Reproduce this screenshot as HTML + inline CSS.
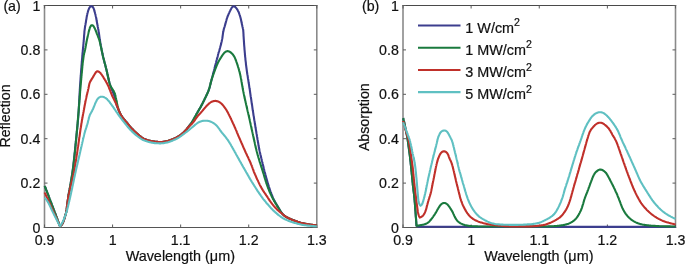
<!DOCTYPE html>
<html><head><meta charset="utf-8"><title>Reflection and Absorption spectra</title>
<style>html,body{margin:0;padding:0;background:#fff;width:685px;height:265px;overflow:hidden}svg{display:block}</style>
</head><body>
<svg width="685" height="265" viewBox="0 0 685 265">
<rect width="685" height="265" fill="#fff"/>
<g font-family="'Liberation Sans', sans-serif" font-size="14.2" fill="#111" stroke="#111" stroke-width="0.2">
<line x1="43.7" y1="5.5" x2="317.6" y2="5.5" stroke="#4a4a4a" stroke-width="1.1"/>
<line x1="43.7" y1="227.5" x2="317.6" y2="227.5" stroke="#555" stroke-width="1.2"/>
<line x1="44.5" y1="5.5" x2="44.5" y2="227.5" stroke="#8a8a8a" stroke-width="1.6"/>
<line x1="316.8" y1="5.5" x2="316.8" y2="227.5" stroke="#8a8a8a" stroke-width="1.6"/>
<line x1="44.50" y1="227.5" x2="44.50" y2="224.5" stroke="#5a5a5a" stroke-width="1"/>
<line x1="44.50" y1="5.5" x2="44.50" y2="8.5" stroke="#5a5a5a" stroke-width="1"/>
<line x1="112.58" y1="227.5" x2="112.58" y2="224.5" stroke="#5a5a5a" stroke-width="1"/>
<line x1="112.58" y1="5.5" x2="112.58" y2="8.5" stroke="#5a5a5a" stroke-width="1"/>
<line x1="180.65" y1="227.5" x2="180.65" y2="224.5" stroke="#5a5a5a" stroke-width="1"/>
<line x1="180.65" y1="5.5" x2="180.65" y2="8.5" stroke="#5a5a5a" stroke-width="1"/>
<line x1="248.73" y1="227.5" x2="248.73" y2="224.5" stroke="#5a5a5a" stroke-width="1"/>
<line x1="248.73" y1="5.5" x2="248.73" y2="8.5" stroke="#5a5a5a" stroke-width="1"/>
<line x1="316.80" y1="227.5" x2="316.80" y2="224.5" stroke="#5a5a5a" stroke-width="1"/>
<line x1="316.80" y1="5.5" x2="316.80" y2="8.5" stroke="#5a5a5a" stroke-width="1"/>
<line x1="44.5" y1="227.50" x2="47.5" y2="227.50" stroke="#5a5a5a" stroke-width="1"/>
<line x1="316.8" y1="227.50" x2="313.8" y2="227.50" stroke="#5a5a5a" stroke-width="1"/>
<line x1="44.5" y1="183.10" x2="47.5" y2="183.10" stroke="#5a5a5a" stroke-width="1"/>
<line x1="316.8" y1="183.10" x2="313.8" y2="183.10" stroke="#5a5a5a" stroke-width="1"/>
<line x1="44.5" y1="138.70" x2="47.5" y2="138.70" stroke="#5a5a5a" stroke-width="1"/>
<line x1="316.8" y1="138.70" x2="313.8" y2="138.70" stroke="#5a5a5a" stroke-width="1"/>
<line x1="44.5" y1="94.30" x2="47.5" y2="94.30" stroke="#5a5a5a" stroke-width="1"/>
<line x1="316.8" y1="94.30" x2="313.8" y2="94.30" stroke="#5a5a5a" stroke-width="1"/>
<line x1="44.5" y1="49.90" x2="47.5" y2="49.90" stroke="#5a5a5a" stroke-width="1"/>
<line x1="316.8" y1="49.90" x2="313.8" y2="49.90" stroke="#5a5a5a" stroke-width="1"/>
<line x1="44.5" y1="5.50" x2="47.5" y2="5.50" stroke="#5a5a5a" stroke-width="1"/>
<line x1="316.8" y1="5.50" x2="313.8" y2="5.50" stroke="#5a5a5a" stroke-width="1"/>
<line x1="402.2" y1="5.5" x2="676.3" y2="5.5" stroke="#4a4a4a" stroke-width="1.1"/>
<line x1="402.2" y1="227.5" x2="676.3" y2="227.5" stroke="#555" stroke-width="1.2"/>
<line x1="403.0" y1="5.5" x2="403.0" y2="227.5" stroke="#8a8a8a" stroke-width="1.6"/>
<line x1="675.5" y1="5.5" x2="675.5" y2="227.5" stroke="#8a8a8a" stroke-width="1.6"/>
<line x1="403.00" y1="227.5" x2="403.00" y2="224.5" stroke="#5a5a5a" stroke-width="1"/>
<line x1="403.00" y1="5.5" x2="403.00" y2="8.5" stroke="#5a5a5a" stroke-width="1"/>
<line x1="471.12" y1="227.5" x2="471.12" y2="224.5" stroke="#5a5a5a" stroke-width="1"/>
<line x1="471.12" y1="5.5" x2="471.12" y2="8.5" stroke="#5a5a5a" stroke-width="1"/>
<line x1="539.25" y1="227.5" x2="539.25" y2="224.5" stroke="#5a5a5a" stroke-width="1"/>
<line x1="539.25" y1="5.5" x2="539.25" y2="8.5" stroke="#5a5a5a" stroke-width="1"/>
<line x1="607.38" y1="227.5" x2="607.38" y2="224.5" stroke="#5a5a5a" stroke-width="1"/>
<line x1="607.38" y1="5.5" x2="607.38" y2="8.5" stroke="#5a5a5a" stroke-width="1"/>
<line x1="675.50" y1="227.5" x2="675.50" y2="224.5" stroke="#5a5a5a" stroke-width="1"/>
<line x1="675.50" y1="5.5" x2="675.50" y2="8.5" stroke="#5a5a5a" stroke-width="1"/>
<line x1="403.0" y1="227.50" x2="406.0" y2="227.50" stroke="#5a5a5a" stroke-width="1"/>
<line x1="675.5" y1="227.50" x2="672.5" y2="227.50" stroke="#5a5a5a" stroke-width="1"/>
<line x1="403.0" y1="183.10" x2="406.0" y2="183.10" stroke="#5a5a5a" stroke-width="1"/>
<line x1="675.5" y1="183.10" x2="672.5" y2="183.10" stroke="#5a5a5a" stroke-width="1"/>
<line x1="403.0" y1="138.70" x2="406.0" y2="138.70" stroke="#5a5a5a" stroke-width="1"/>
<line x1="675.5" y1="138.70" x2="672.5" y2="138.70" stroke="#5a5a5a" stroke-width="1"/>
<line x1="403.0" y1="94.30" x2="406.0" y2="94.30" stroke="#5a5a5a" stroke-width="1"/>
<line x1="675.5" y1="94.30" x2="672.5" y2="94.30" stroke="#5a5a5a" stroke-width="1"/>
<line x1="403.0" y1="49.90" x2="406.0" y2="49.90" stroke="#5a5a5a" stroke-width="1"/>
<line x1="675.5" y1="49.90" x2="672.5" y2="49.90" stroke="#5a5a5a" stroke-width="1"/>
<line x1="403.0" y1="5.50" x2="406.0" y2="5.50" stroke="#5a5a5a" stroke-width="1"/>
<line x1="675.5" y1="5.50" x2="672.5" y2="5.50" stroke="#5a5a5a" stroke-width="1"/>
<path d="M44.7,185.8 44.8,186.1 45.1,186.8 45.3,187.5 45.6,188.2 45.9,188.9 46.1,189.6 46.4,190.3 46.7,191.0 47.0,191.7 47.2,192.4 47.5,193.1 47.8,193.8 48.0,194.5 48.3,195.2 48.6,195.9 48.8,196.6 49.1,197.4 49.4,198.1 49.6,198.8 49.9,199.5 50.2,200.2 50.4,200.9 50.7,201.6 51.0,202.3 51.2,203.0 51.5,203.7 51.8,204.4 52.0,205.1 52.3,205.8 52.6,206.5 52.8,207.2 53.1,207.9 53.4,208.6 53.6,209.3 53.9,210.0 54.2,210.7 54.4,211.4 54.7,212.1 55.0,212.8 55.2,213.5 55.5,214.2 55.8,214.9 56.0,215.6 56.3,216.3 56.6,217.0 56.8,217.8 57.1,218.5 57.4,219.2 57.6,219.9 57.9,220.6 58.1,221.3 58.4,222.0 58.7,222.7 58.9,223.4 59.2,224.1 59.5,224.8 59.7,225.5 60.0,226.2 60.6,225.8 61.2,225.3 61.6,224.8 62.1,224.2 62.4,223.6 62.8,222.9 63.1,222.2 63.4,221.5 63.6,220.8 63.9,220.1 64.1,219.4 64.4,218.7 64.6,218.0 64.8,217.3 65.0,216.5 65.2,215.8 65.4,215.1 65.6,214.4 65.8,213.7 66.0,212.9 66.2,212.2 66.3,211.5 66.4,210.7 66.6,210.0 66.7,209.2 66.8,208.5 66.9,207.8 66.9,207.0 67.0,206.3 67.1,205.5 67.2,204.8 67.3,204.0 67.4,203.3 67.5,202.5 67.6,201.8 67.7,201.0 67.8,200.3 67.9,199.6 68.0,198.8 68.1,198.1 68.2,197.3 68.3,196.6 68.4,195.9 68.6,195.1 68.7,194.4 68.8,193.6 68.9,192.9 69.1,192.2 69.2,191.4 69.3,190.7 69.5,189.9 69.6,189.2 69.7,188.5 69.9,187.7 70.0,187.0 70.1,186.3 70.3,185.5 70.4,184.8 70.6,184.0 70.7,183.3 70.8,182.6 70.9,181.8 71.1,181.1 71.2,180.3 71.3,179.6 71.5,178.9 71.6,178.1 71.7,177.4 71.8,176.6 71.9,175.9 72.1,175.2 72.2,174.4 72.3,173.7 72.4,172.9 72.5,172.2 72.6,171.5 72.7,170.7 72.8,170.0 72.9,169.2 73.0,168.5 73.1,167.7 73.2,167.0 73.3,166.2 73.4,165.5 73.4,164.8 73.5,164.0 73.6,163.3 73.7,162.5 73.8,161.8 73.9,161.0 73.9,160.3 74.0,159.5 74.1,158.8 74.2,158.0 74.3,157.3 74.3,156.5 74.4,155.8 74.5,155.1 74.6,154.3 74.6,153.6 74.7,152.8 74.8,152.1 74.9,151.3 74.9,150.6 75.0,149.8 75.1,149.1 75.2,148.3 75.2,147.6 75.3,146.8 75.4,146.1 75.5,145.4 75.5,144.6 75.6,143.9 75.7,143.1 75.8,142.4 75.8,141.6 75.9,140.9 76.0,140.1 76.1,139.4 76.1,138.6 76.2,137.9 76.3,137.1 76.4,136.4 76.5,135.6 76.5,134.9 76.6,134.2 76.7,133.4 76.8,132.7 76.8,131.9 76.9,131.2 77.0,130.4 77.1,129.7 77.2,128.9 77.2,128.2 77.3,127.4 77.4,126.7 77.5,125.9 77.5,125.2 77.6,124.5 77.7,123.7 77.7,123.0 77.8,122.2 77.9,121.5 77.9,120.7 78.0,120.0 78.1,119.2 78.1,118.5 78.2,117.7 78.2,117.0 78.3,116.2 78.4,115.5 78.4,114.7 78.5,114.0 78.5,113.2 78.6,112.5 78.6,111.7 78.7,111.0 78.7,110.2 78.8,109.5 78.8,108.7 78.8,108.0 78.9,107.2 78.9,106.5 79.0,105.8 79.0,105.0 79.0,104.3 79.1,103.5 79.1,102.8 79.2,102.0 79.2,101.3 79.2,100.5 79.3,99.8 79.3,99.0 79.4,98.3 79.4,97.5 79.4,96.8 79.5,96.0 79.5,95.3 79.6,94.5 79.6,93.8 79.6,93.0 79.7,92.3 79.7,91.5 79.8,90.8 79.8,90.0 79.8,89.3 79.9,88.5 79.9,87.8 80.0,87.0 80.0,86.3 80.1,85.5 80.1,84.8 80.2,84.0 80.2,83.3 80.3,82.5 80.3,81.8 80.4,81.0 80.4,80.3 80.5,79.5 80.5,78.8 80.6,78.0 80.6,77.3 80.7,76.5 80.7,75.8 80.8,75.0 80.9,74.3 80.9,73.6 81.0,72.8 81.0,72.1 81.1,71.3 81.1,70.6 81.2,69.8 81.2,69.1 81.3,68.3 81.4,67.6 81.4,66.8 81.5,66.1 81.5,65.3 81.6,64.6 81.7,63.8 81.7,63.1 81.8,62.3 81.8,61.6 81.9,60.8 82.0,60.1 82.0,59.3 82.1,58.6 82.2,57.8 82.2,57.1 82.3,56.4 82.3,55.6 82.4,54.9 82.5,54.1 82.5,53.4 82.6,52.6 82.7,51.9 82.8,51.1 82.8,50.4 82.9,49.6 83.0,48.9 83.0,48.1 83.1,47.4 83.2,46.6 83.3,45.9 83.3,45.1 83.4,44.4 83.5,43.7 83.5,42.9 83.6,42.2 83.7,41.4 83.7,40.7 83.8,39.9 83.9,39.2 83.9,38.4 84.0,37.7 84.0,36.9 84.1,36.2 84.1,35.4 84.2,34.7 84.3,33.9 84.3,33.2 84.4,32.4 84.4,31.7 84.5,30.9 84.6,30.2 84.7,29.5 84.8,28.7 84.9,28.0 85.0,27.2 85.1,26.5 85.2,25.7 85.4,25.0 85.5,24.3 85.6,23.5 85.8,22.8 85.9,22.0 86.0,21.3 86.1,20.6 86.2,19.8 86.4,19.1 86.5,18.3 86.6,17.6 86.7,16.9 86.9,16.1 87.0,15.4 87.2,14.7 87.3,13.9 87.5,13.2 87.7,12.5 87.9,11.7 88.1,11.0 88.3,10.3 88.6,9.6 88.9,8.9 89.2,8.2 89.5,7.6 90.0,7.0 90.5,6.5 91.0,6.3 91.6,6.2 92.2,6.4 92.7,6.8 93.1,7.4 93.4,8.0 93.7,8.7 94.0,9.4 94.2,10.1 94.4,10.9 94.6,11.6 94.8,12.3 95.0,13.0 95.2,13.8 95.4,14.5 95.6,15.2 95.7,15.9 95.9,16.7 96.1,17.4 96.2,18.1 96.3,18.9 96.5,19.6 96.6,20.3 96.7,21.1 96.9,21.8 97.0,22.6 97.1,23.3 97.3,24.0 97.4,24.8 97.6,25.5 97.7,26.3 97.8,27.0 98.0,27.7 98.1,28.5 98.3,29.2 98.4,29.9 98.5,30.7 98.6,31.4 98.7,32.2 98.8,32.9 99.0,33.6 99.1,34.4 99.2,35.1 99.3,35.9 99.4,36.6 99.5,37.4 99.6,38.1 99.7,38.8 99.8,39.6 100.0,40.3 100.1,41.1 100.2,41.8 100.3,42.5 100.5,43.3 100.6,44.0 100.7,44.8 100.8,45.5 101.0,46.2 101.1,47.0 101.2,47.7 101.4,48.5 101.5,49.2 101.7,49.9 101.8,50.7 102.0,51.4 102.1,52.1 102.3,52.9 102.4,53.6 102.6,54.3 102.7,55.1 102.9,55.8 103.0,56.5 103.2,57.3 103.4,58.0 103.6,58.7 103.7,59.5 103.9,60.2 104.1,60.9 104.3,61.6 104.5,62.4 104.7,63.1 104.9,63.8 105.1,64.5 105.3,65.3 105.5,66.0 105.7,66.7 105.8,67.4 106.0,68.2 106.2,68.9 106.4,69.6 106.6,70.3 106.8,71.1 106.9,71.8 107.1,72.5 107.3,73.3 107.4,74.0 107.6,74.7 107.8,75.5 107.9,76.2 108.1,76.9 108.3,77.7 108.4,78.4 108.6,79.1 108.8,79.8 108.9,80.6 109.1,81.3 109.3,82.0 109.5,82.8 109.7,83.5 109.9,84.2 110.1,84.9 110.3,85.6 110.6,86.4 110.8,87.1 111.1,87.8 111.3,88.5 111.6,89.2 111.9,89.9 112.2,90.5 112.5,91.2 112.8,91.9 113.1,92.6 113.4,93.3 113.6,94.0 113.9,94.7 114.2,95.4 114.4,96.1 114.6,96.8 114.8,97.6 115.0,98.3 115.2,99.0 115.4,99.7 115.5,100.5 115.7,101.2 115.8,101.9 116.0,102.7 116.2,103.4 116.4,104.1 116.6,104.8 116.8,105.6 117.0,106.3 117.3,107.0 117.6,107.6 117.9,108.3 118.2,109.0 118.5,109.7 118.8,110.4 119.1,111.1 119.4,111.8 119.7,112.5 120.0,113.1 120.3,113.8 120.7,114.5 121.0,115.1 121.4,115.8 121.8,116.4 122.3,117.0 122.7,117.6 123.2,118.2 123.6,118.8 124.1,119.4 124.6,120.0 125.1,120.6 125.5,121.1 126.0,121.7 126.5,122.3 127.0,122.8 127.5,123.4 128.0,124.0 128.4,124.6 128.9,125.2 129.4,125.8 129.8,126.3 130.3,126.9 130.8,127.5 131.3,128.0 131.8,128.6 132.4,129.1 132.9,129.6 133.4,130.2 134.0,130.7 134.5,131.2 135.1,131.7 135.6,132.2 136.2,132.7 136.7,133.2 137.3,133.7 137.8,134.2 138.4,134.7 139.0,135.2 139.6,135.7 140.1,136.2 140.7,136.7 141.3,137.1 141.9,137.6 142.5,138.0 143.1,138.4 143.8,138.7 144.5,139.0 145.2,139.3 145.9,139.6 146.6,139.8 147.3,140.0 148.0,140.3 148.7,140.5 149.5,140.7 150.2,140.9 150.9,141.0 151.7,141.2 152.4,141.3 153.1,141.4 153.9,141.5 154.6,141.6 155.4,141.7 156.1,141.8 156.9,141.9 157.6,141.9 158.4,142.0 159.1,142.0 159.9,142.1 160.6,142.1 161.4,142.0 162.1,142.0 162.8,141.9 163.6,141.8 164.3,141.7 165.1,141.6 165.8,141.4 166.5,141.3 167.3,141.1 168.0,140.9 168.7,140.7 169.4,140.4 170.1,140.2 170.8,140.0 171.5,139.7 172.2,139.4 172.9,139.1 173.6,138.8 174.3,138.5 175.0,138.2 175.7,137.9 176.3,137.6 177.0,137.2 177.6,136.8 178.3,136.5 178.9,136.1 179.6,135.6 180.2,135.2 180.8,134.8 181.4,134.3 182.0,133.9 182.6,133.4 183.1,132.9 183.7,132.4 184.2,131.9 184.8,131.4 185.3,130.8 185.7,130.2 186.2,129.7 186.7,129.1 187.1,128.5 187.6,127.9 188.1,127.3 188.6,126.7 189.0,126.1 189.5,125.6 189.9,125.0 190.4,124.4 190.8,123.7 191.3,123.1 191.7,122.5 192.1,121.9 192.5,121.3 192.9,120.6 193.3,120.0 193.6,119.3 194.0,118.7 194.4,118.0 194.7,117.3 195.1,116.7 195.5,116.0 195.8,115.4 196.2,114.7 196.5,114.1 196.9,113.4 197.3,112.8 197.7,112.1 198.0,111.5 198.4,110.8 198.8,110.2 199.1,109.5 199.5,108.9 199.9,108.2 200.3,107.6 200.7,106.9 201.0,106.3 201.4,105.6 201.7,104.9 202.1,104.3 202.4,103.6 202.8,102.9 203.1,102.3 203.4,101.6 203.8,100.9 204.1,100.2 204.4,99.6 204.7,98.9 205.1,98.2 205.4,97.5 205.7,96.9 206.0,96.2 206.4,95.5 206.7,94.8 207.0,94.2 207.3,93.5 207.7,92.8 208.0,92.1 208.2,91.4 208.5,90.7 208.8,90.0 209.0,89.3 209.2,88.6 209.5,87.9 209.7,87.2 209.9,86.4 210.0,85.7 210.2,85.0 210.4,84.3 210.6,83.5 210.8,82.8 211.0,82.1 211.2,81.3 211.3,80.6 211.5,79.9 211.7,79.2 211.9,78.4 212.1,77.7 212.3,77.0 212.5,76.3 212.7,75.5 212.9,74.8 213.0,74.1 213.2,73.4 213.4,72.6 213.6,71.9 213.8,71.2 214.0,70.5 214.2,69.7 214.4,69.0 214.5,68.3 214.7,67.5 214.9,66.8 215.1,66.1 215.3,65.4 215.5,64.6 215.7,63.9 215.9,63.2 216.1,62.5 216.2,61.7 216.4,61.0 216.6,60.3 216.8,59.6 217.0,58.8 217.2,58.1 217.4,57.4 217.6,56.7 217.8,55.9 217.9,55.2 218.1,54.5 218.3,53.8 218.5,53.0 218.7,52.3 219.0,51.6 219.2,50.9 219.4,50.2 219.6,49.4 219.8,48.7 220.0,48.0 220.2,47.3 220.4,46.5 220.6,45.8 220.8,45.1 221.0,44.4 221.2,43.6 221.3,42.9 221.5,42.2 221.7,41.5 221.8,40.7 222.0,40.0 222.1,39.2 222.3,38.5 222.4,37.8 222.5,37.0 222.6,36.3 222.7,35.5 222.8,34.8 222.9,34.1 223.0,33.3 223.1,32.6 223.3,31.8 223.4,31.1 223.6,30.4 223.7,29.6 223.9,28.9 224.1,28.2 224.3,27.5 224.6,26.8 224.8,26.0 225.0,25.3 225.2,24.6 225.4,23.9 225.6,23.1 225.8,22.4 226.0,21.7 226.2,21.0 226.4,20.2 226.6,19.5 226.8,18.8 227.0,18.1 227.3,17.4 227.5,16.7 227.8,16.0 228.1,15.3 228.4,14.6 228.7,13.9 229.0,13.2 229.3,12.6 229.6,11.9 229.9,11.2 230.3,10.5 230.6,9.8 230.9,9.2 231.3,8.5 231.6,7.9 232.1,7.3 232.6,6.8 233.1,6.4 233.7,6.2 234.3,6.3 234.8,6.6 235.4,7.1 235.8,7.6 236.3,8.2 236.8,8.8 237.2,9.4 237.6,10.0 237.9,10.7 238.3,11.4 238.6,12.0 238.9,12.7 239.1,13.4 239.4,14.1 239.6,14.8 239.9,15.6 240.1,16.3 240.3,17.0 240.5,17.7 240.7,18.4 240.9,19.2 241.0,19.9 241.2,20.6 241.3,21.4 241.5,22.1 241.6,22.8 241.8,23.6 241.9,24.3 242.1,25.0 242.3,25.8 242.4,26.5 242.6,27.2 242.8,28.0 242.9,28.7 243.1,29.4 243.2,30.2 243.3,30.9 243.3,31.7 243.4,32.4 243.4,33.2 243.5,33.9 243.5,34.7 243.5,35.4 243.6,36.2 243.6,36.9 243.7,37.7 243.7,38.4 243.8,39.2 243.8,39.9 243.9,40.7 243.9,41.4 244.0,42.2 244.0,42.9 244.1,43.6 244.1,44.4 244.2,45.1 244.2,45.9 244.3,46.6 244.4,47.4 244.4,48.1 244.5,48.9 244.5,49.6 244.6,50.4 244.7,51.1 244.7,51.9 244.8,52.6 244.9,53.4 244.9,54.1 245.0,54.9 245.1,55.6 245.1,56.4 245.2,57.1 245.3,57.8 245.4,58.6 245.4,59.3 245.5,60.1 245.6,60.8 245.7,61.6 245.8,62.3 245.9,63.1 245.9,63.8 246.0,64.6 246.1,65.3 246.2,66.0 246.3,66.8 246.4,67.5 246.5,68.3 246.6,69.0 246.7,69.8 246.8,70.5 246.9,71.3 247.0,72.0 247.1,72.7 247.2,73.5 247.3,74.2 247.5,75.0 247.6,75.7 247.7,76.4 247.8,77.2 247.9,77.9 248.0,78.7 248.2,79.4 248.3,80.2 248.4,80.9 248.5,81.6 248.6,82.4 248.7,83.1 248.9,83.9 249.0,84.6 249.1,85.3 249.2,86.1 249.3,86.8 249.4,87.6 249.5,88.3 249.7,89.0 249.8,89.8 249.9,90.5 250.0,91.3 250.1,92.0 250.2,92.8 250.3,93.5 250.4,94.2 250.5,95.0 250.6,95.7 250.7,96.5 250.9,97.2 251.0,98.0 251.1,98.7 251.2,99.4 251.3,100.2 251.4,100.9 251.5,101.7 251.6,102.4 251.7,103.1 251.8,103.9 252.0,104.6 252.1,105.4 252.2,106.1 252.3,106.9 252.4,107.6 252.5,108.3 252.6,109.1 252.7,109.8 252.8,110.6 253.0,111.3 253.1,112.1 253.2,112.8 253.3,113.5 253.4,114.3 253.5,115.0 253.6,115.8 253.8,116.5 253.9,117.2 254.0,118.0 254.1,118.7 254.2,119.5 254.3,120.2 254.5,120.9 254.6,121.7 254.7,122.4 254.8,123.2 254.9,123.9 255.1,124.6 255.2,125.4 255.3,126.1 255.4,126.9 255.5,127.6 255.7,128.3 255.8,129.1 255.9,129.8 256.0,130.6 256.2,131.3 256.3,132.0 256.4,132.8 256.5,133.5 256.7,134.3 256.8,135.0 256.9,135.7 257.0,136.5 257.2,137.2 257.3,138.0 257.4,138.7 257.5,139.4 257.7,140.2 257.8,140.9 257.9,141.7 258.0,142.4 258.2,143.1 258.3,143.9 258.4,144.6 258.5,145.4 258.7,146.1 258.8,146.8 258.9,147.6 259.1,148.3 259.2,149.1 259.4,149.8 259.5,150.5 259.7,151.3 259.8,152.0 260.0,152.7 260.2,153.5 260.3,154.2 260.5,154.9 260.7,155.6 260.9,156.4 261.0,157.1 261.2,157.8 261.4,158.6 261.6,159.3 261.8,160.0 261.9,160.7 262.1,161.5 262.3,162.2 262.5,162.9 262.6,163.7 262.8,164.4 263.0,165.1 263.2,165.8 263.3,166.6 263.5,167.3 263.7,168.0 263.9,168.8 264.1,169.5 264.2,170.2 264.4,170.9 264.6,171.7 264.8,172.4 265.0,173.1 265.2,173.8 265.4,174.6 265.6,175.3 265.8,176.0 266.0,176.7 266.2,177.5 266.3,178.2 266.6,178.9 266.8,179.6 267.0,180.4 267.2,181.1 267.4,181.8 267.6,182.5 267.8,183.2 268.0,184.0 268.3,184.7 268.5,185.4 268.7,186.1 268.9,186.8 269.2,187.5 269.4,188.2 269.6,189.0 269.9,189.7 270.1,190.4 270.4,191.1 270.6,191.8 270.9,192.5 271.2,193.2 271.4,193.9 271.7,194.6 272.0,195.3 272.2,196.0 272.5,196.7 272.8,197.4 273.1,198.1 273.4,198.7 273.7,199.4 274.1,200.1 274.4,200.8 274.8,201.4 275.2,202.1 275.5,202.7 275.9,203.4 276.3,204.0 276.7,204.6 277.1,205.3 277.5,205.9 277.8,206.6 278.2,207.2 278.6,207.9 279.0,208.5 279.4,209.2 279.7,209.8 280.1,210.5 280.5,211.1 280.9,211.8 281.3,212.4 281.7,213.0 282.2,213.6 282.7,214.1 283.2,214.7 283.8,215.2 284.3,215.6 284.9,216.1 285.6,216.5 286.2,216.9 286.8,217.3 287.5,217.6 288.2,218.0 288.8,218.3 289.5,218.6 290.2,218.9 290.9,219.2 291.6,219.5 292.3,219.8 293.0,220.1 293.7,220.3 294.4,220.6 295.1,220.8 295.8,221.1 296.5,221.4 297.2,221.6 297.9,221.9 298.6,222.1 299.3,222.3 300.1,222.6 300.8,222.8 301.5,223.0 302.2,223.1 303.0,223.3 303.7,223.4 304.4,223.6 305.2,223.7 305.9,223.9 306.6,224.0 307.4,224.1 308.1,224.3 308.9,224.4 309.6,224.5 310.3,224.7 311.1,224.8 311.8,224.9 312.6,225.0 313.3,225.1 314.1,225.1 314.8,225.2 315.6,225.3 316.3,225.4 316.8,225.4" fill="none" stroke="#3c3e8e" stroke-width="2.1" stroke-linejoin="round"/>
<path d="M44.7,185.8 44.8,186.1 45.1,186.8 45.3,187.5 45.6,188.2 45.9,188.9 46.1,189.6 46.4,190.3 46.7,191.0 47.0,191.7 47.2,192.4 47.5,193.1 47.8,193.8 48.0,194.5 48.3,195.2 48.6,195.9 48.8,196.6 49.1,197.4 49.4,198.1 49.6,198.8 49.9,199.5 50.2,200.2 50.4,200.9 50.7,201.6 51.0,202.3 51.2,203.0 51.5,203.7 51.8,204.4 52.0,205.1 52.3,205.8 52.6,206.5 52.8,207.2 53.1,207.9 53.4,208.6 53.6,209.3 53.9,210.0 54.2,210.7 54.4,211.4 54.7,212.1 55.0,212.8 55.2,213.5 55.5,214.2 55.8,214.9 56.0,215.6 56.3,216.3 56.6,217.0 56.8,217.8 57.1,218.5 57.4,219.2 57.6,219.9 57.9,220.6 58.1,221.3 58.4,222.0 58.7,222.7 58.9,223.4 59.2,224.1 59.5,224.8 59.7,225.5 60.0,226.2 60.6,225.8 61.2,225.3 61.6,224.8 62.1,224.2 62.4,223.6 62.8,222.9 63.1,222.2 63.4,221.5 63.6,220.8 63.9,220.1 64.1,219.4 64.4,218.7 64.6,218.0 64.8,217.3 65.0,216.5 65.2,215.8 65.4,215.1 65.6,214.4 65.8,213.7 66.0,212.9 66.2,212.2 66.3,211.5 66.4,210.7 66.6,210.0 66.7,209.2 66.8,208.5 66.9,207.8 66.9,207.0 67.0,206.3 67.1,205.5 67.2,204.8 67.3,204.0 67.4,203.3 67.5,202.5 67.6,201.8 67.7,201.1 67.8,200.3 67.9,199.6 68.0,198.8 68.1,198.1 68.2,197.3 68.3,196.6 68.4,195.9 68.6,195.1 68.7,194.4 68.8,193.6 68.9,192.9 69.1,192.2 69.2,191.4 69.3,190.7 69.5,189.9 69.6,189.2 69.7,188.5 69.9,187.7 70.0,187.0 70.1,186.3 70.3,185.5 70.4,184.8 70.5,184.0 70.7,183.3 70.8,182.6 70.9,181.8 71.1,181.1 71.2,180.4 71.3,179.6 71.4,178.9 71.6,178.1 71.7,177.4 71.8,176.7 71.9,175.9 72.0,175.2 72.2,174.4 72.3,173.7 72.4,172.9 72.5,172.2 72.6,171.5 72.7,170.7 72.8,170.0 72.9,169.2 73.0,168.5 73.1,167.7 73.2,167.0 73.3,166.3 73.4,165.5 73.5,164.8 73.6,164.0 73.6,163.3 73.7,162.5 73.8,161.8 73.9,161.0 74.0,160.3 74.1,159.6 74.2,158.8 74.2,158.1 74.3,157.3 74.4,156.6 74.5,155.8 74.6,155.1 74.6,154.3 74.7,153.6 74.8,152.8 74.9,152.1 75.0,151.3 75.0,150.6 75.1,149.9 75.2,149.1 75.3,148.4 75.3,147.6 75.4,146.9 75.5,146.1 75.6,145.4 75.6,144.6 75.7,143.9 75.8,143.1 75.9,142.4 75.9,141.6 76.0,140.9 76.1,140.2 76.2,139.4 76.2,138.7 76.3,137.9 76.4,137.2 76.4,136.4 76.5,135.7 76.6,134.9 76.6,134.2 76.7,133.4 76.8,132.7 76.8,131.9 76.9,131.2 77.0,130.4 77.0,129.7 77.1,129.0 77.2,128.2 77.2,127.5 77.3,126.7 77.4,126.0 77.4,125.2 77.5,124.5 77.6,123.7 77.6,123.0 77.7,122.2 77.7,121.5 77.8,120.7 77.9,120.0 77.9,119.2 78.0,118.5 78.1,117.7 78.1,117.0 78.2,116.2 78.2,115.5 78.3,114.7 78.4,114.0 78.4,113.3 78.5,112.5 78.6,111.8 78.6,111.0 78.7,110.3 78.7,109.5 78.8,108.8 78.9,108.0 78.9,107.3 79.0,106.5 79.0,105.8 79.1,105.0 79.2,104.3 79.2,103.5 79.3,102.8 79.3,102.0 79.4,101.3 79.4,100.5 79.5,99.8 79.6,99.0 79.6,98.3 79.7,97.6 79.7,96.8 79.8,96.1 79.9,95.3 79.9,94.6 80.0,93.8 80.0,93.1 80.1,92.3 80.1,91.6 80.2,90.8 80.3,90.1 80.3,89.3 80.4,88.6 80.5,87.8 80.5,87.1 80.6,86.3 80.6,85.6 80.7,84.8 80.8,84.1 80.8,83.3 80.9,82.6 81.0,81.9 81.0,81.1 81.1,80.4 81.2,79.6 81.2,78.9 81.3,78.1 81.4,77.4 81.4,76.6 81.5,75.9 81.6,75.1 81.6,74.4 81.7,73.6 81.8,72.9 81.9,72.1 81.9,71.4 82.0,70.6 82.1,69.9 82.1,69.2 82.2,68.4 82.3,67.7 82.3,66.9 82.4,66.2 82.5,65.4 82.6,64.7 82.6,63.9 82.7,63.2 82.8,62.4 82.9,61.7 83.0,60.9 83.1,60.2 83.2,59.5 83.3,58.7 83.4,58.0 83.5,57.2 83.6,56.5 83.7,55.7 83.8,55.0 84.0,54.3 84.1,53.5 84.3,52.8 84.5,52.1 84.7,51.4 84.8,50.6 85.0,49.9 85.2,49.2 85.3,48.4 85.5,47.7 85.6,47.0 85.7,46.2 85.9,45.5 86.0,44.7 86.1,44.0 86.3,43.3 86.4,42.5 86.5,41.8 86.7,41.1 86.8,40.3 87.0,39.6 87.1,38.9 87.3,38.1 87.5,37.4 87.6,36.7 87.8,35.9 87.9,35.2 88.1,34.5 88.3,33.7 88.4,33.0 88.6,32.3 88.8,31.5 89.0,30.8 89.2,30.1 89.4,29.4 89.6,28.7 89.8,27.9 90.1,27.2 90.4,26.6 90.8,26.0 91.2,25.5 91.7,25.2 92.3,25.2 92.8,25.5 93.3,25.9 93.7,26.5 94.1,27.1 94.4,27.8 94.8,28.5 95.1,29.1 95.4,29.8 95.7,30.5 95.9,31.2 96.2,31.9 96.5,32.6 96.7,33.3 97.0,34.0 97.3,34.7 97.6,35.4 97.9,36.1 98.1,36.8 98.4,37.5 98.7,38.2 98.9,38.9 99.2,39.6 99.4,40.3 99.6,41.1 99.8,41.8 100.0,42.5 100.1,43.2 100.3,44.0 100.5,44.7 100.6,45.4 100.8,46.2 101.0,46.9 101.1,47.6 101.3,48.4 101.4,49.1 101.6,49.8 101.7,50.6 101.9,51.3 102.0,52.0 102.2,52.8 102.4,53.5 102.5,54.2 102.7,55.0 102.9,55.7 103.0,56.4 103.2,57.2 103.4,57.9 103.6,58.6 103.8,59.3 104.0,60.1 104.1,60.8 104.3,61.5 104.5,62.2 104.7,63.0 104.9,63.7 105.1,64.4 105.3,65.1 105.5,65.9 105.6,66.6 105.8,67.3 106.0,68.1 106.2,68.8 106.4,69.5 106.6,70.2 106.7,71.0 106.9,71.7 107.1,72.4 107.2,73.2 107.4,73.9 107.5,74.6 107.7,75.4 107.9,76.1 108.0,76.8 108.2,77.6 108.3,78.3 108.5,79.0 108.7,79.8 108.8,80.5 109.0,81.2 109.2,81.9 109.4,82.7 109.6,83.4 109.8,84.1 110.1,84.8 110.3,85.5 110.7,86.2 111.0,86.9 111.4,87.5 111.7,88.1 112.2,88.8 112.6,89.4 113.0,90.0 113.4,90.7 113.8,91.3 114.1,92.0 114.4,92.6 114.7,93.3 115.0,94.0 115.2,94.8 115.4,95.5 115.5,96.2 115.7,96.9 115.8,97.7 116.0,98.4 116.1,99.2 116.3,99.9 116.4,100.6 116.6,101.4 116.7,102.1 116.9,102.8 117.0,103.6 117.2,104.3 117.4,105.0 117.5,105.8 117.7,106.5 117.9,107.2 118.1,107.9 118.3,108.7 118.5,109.4 118.7,110.1 119.0,110.8 119.2,111.5 119.5,112.2 119.8,112.9 120.2,113.5 120.5,114.2 120.9,114.9 121.3,115.5 121.7,116.1 122.1,116.8 122.5,117.4 123.0,118.0 123.4,118.6 123.9,119.2 124.4,119.7 124.8,120.3 125.3,120.9 125.8,121.5 126.3,122.0 126.8,122.6 127.3,123.2 127.7,123.7 128.2,124.3 128.7,124.9 129.1,125.5 129.6,126.1 130.1,126.7 130.6,127.2 131.1,127.8 131.6,128.3 132.1,128.9 132.7,129.4 133.2,129.9 133.7,130.4 134.3,131.0 134.8,131.5 135.4,132.0 135.9,132.5 136.5,133.0 137.0,133.5 137.6,134.0 138.2,134.5 138.7,135.0 139.3,135.5 139.9,136.0 140.4,136.4 141.0,136.9 141.6,137.4 142.2,137.8 142.9,138.2 143.5,138.6 144.2,138.9 144.9,139.2 145.6,139.4 146.3,139.7 147.0,139.9 147.7,140.2 148.4,140.4 149.1,140.6 149.9,140.8 150.6,140.9 151.3,141.1 152.1,141.3 152.8,141.4 153.5,141.5 154.3,141.6 155.0,141.7 155.8,141.8 156.5,141.8 157.3,141.9 158.0,142.0 158.8,142.0 159.5,142.0 160.3,142.1 161.0,142.1 161.8,142.0 162.5,142.0 163.3,141.9 164.0,141.8 164.7,141.6 165.5,141.5 166.2,141.3 166.9,141.2 167.7,141.0 168.4,140.8 169.1,140.6 169.8,140.3 170.5,140.1 171.2,139.8 171.9,139.5 172.6,139.3 173.3,139.0 174.0,138.7 174.7,138.4 175.4,138.0 176.0,137.7 176.7,137.4 177.3,137.0 178.0,136.6 178.6,136.2 179.3,135.8 179.9,135.4 180.5,135.0 181.1,134.5 181.7,134.1 182.3,133.6 182.9,133.1 183.4,132.7 184.0,132.1 184.5,131.6 185.0,131.1 185.5,130.5 186.0,129.9 186.5,129.3 186.9,128.8 187.4,128.2 187.9,127.6 188.3,127.0 188.8,126.4 189.3,125.8 189.7,125.2 190.2,124.6 190.6,124.0 191.1,123.4 191.5,122.8 191.9,122.2 192.3,121.6 192.7,120.9 193.1,120.3 193.5,119.6 193.8,119.0 194.2,118.3 194.6,117.7 194.9,117.0 195.3,116.3 195.6,115.7 196.0,115.0 196.4,114.4 196.7,113.7 197.1,113.1 197.5,112.4 197.8,111.8 198.2,111.1 198.6,110.5 199.0,109.8 199.3,109.2 199.7,108.5 200.1,107.9 200.5,107.2 200.9,106.6 201.2,105.9 201.6,105.3 201.9,104.6 202.3,103.9 202.6,103.3 203.0,102.6 203.3,101.9 203.6,101.2 203.9,100.6 204.3,99.9 204.6,99.2 204.9,98.5 205.2,97.9 205.6,97.2 205.9,96.5 206.2,95.8 206.6,95.2 206.9,94.5 207.2,93.8 207.5,93.1 207.8,92.4 208.1,91.7 208.4,91.1 208.6,90.4 208.9,89.6 209.1,88.9 209.3,88.2 209.5,87.5 209.7,86.8 209.9,86.0 210.1,85.3 210.3,84.6 210.5,83.9 210.7,83.1 210.8,82.4 211.0,81.7 211.2,81.0 211.4,80.2 211.7,79.5 211.9,78.8 212.1,78.1 212.3,77.4 212.6,76.7 212.8,76.0 213.1,75.2 213.3,74.5 213.6,73.8 213.8,73.1 214.1,72.4 214.3,71.7 214.6,71.0 214.9,70.3 215.1,69.6 215.4,68.9 215.7,68.2 215.9,67.5 216.2,66.8 216.5,66.1 216.8,65.4 217.1,64.7 217.4,64.0 217.7,63.4 218.0,62.7 218.3,62.0 218.7,61.3 219.0,60.7 219.4,60.0 219.8,59.4 220.2,58.7 220.6,58.1 221.0,57.5 221.4,56.8 221.8,56.2 222.2,55.6 222.6,55.0 223.0,54.4 223.5,53.8 224.0,53.2 224.5,52.6 225.0,52.2 225.6,51.7 226.3,51.4 226.9,51.2 227.6,51.1 228.3,51.2 229.0,51.4 229.6,51.7 230.3,52.1 230.9,52.6 231.4,53.1 232.0,53.6 232.5,54.1 233.0,54.7 233.4,55.3 233.8,55.9 234.2,56.5 234.6,57.2 234.9,57.9 235.2,58.6 235.5,59.3 235.7,60.0 236.0,60.7 236.3,61.4 236.5,62.1 236.8,62.8 237.0,63.5 237.2,64.2 237.5,64.9 237.7,65.6 237.9,66.3 238.1,67.1 238.4,67.8 238.6,68.5 238.8,69.2 239.0,69.9 239.2,70.7 239.4,71.4 239.6,72.1 239.8,72.8 239.9,73.6 240.1,74.3 240.3,75.0 240.4,75.8 240.6,76.5 240.7,77.2 240.9,78.0 241.0,78.7 241.2,79.4 241.3,80.2 241.4,80.9 241.5,81.7 241.7,82.4 241.8,83.1 241.9,83.9 242.0,84.6 242.2,85.4 242.3,86.1 242.4,86.8 242.6,87.6 242.7,88.3 242.8,89.1 243.0,89.8 243.1,90.5 243.3,91.3 243.4,92.0 243.6,92.7 243.7,93.5 243.9,94.2 244.0,94.9 244.2,95.7 244.3,96.4 244.5,97.1 244.6,97.9 244.8,98.6 245.0,99.3 245.1,100.1 245.3,100.8 245.5,101.5 245.6,102.3 245.8,103.0 246.0,103.7 246.1,104.5 246.3,105.2 246.5,105.9 246.6,106.6 246.8,107.4 247.0,108.1 247.1,108.8 247.3,109.6 247.5,110.3 247.6,111.0 247.8,111.8 248.0,112.5 248.2,113.2 248.3,114.0 248.5,114.7 248.7,115.4 248.8,116.1 249.0,116.9 249.2,117.6 249.3,118.3 249.5,119.1 249.7,119.8 249.8,120.5 250.0,121.3 250.1,122.0 250.3,122.7 250.5,123.5 250.6,124.2 250.8,124.9 250.9,125.7 251.1,126.4 251.3,127.1 251.4,127.9 251.6,128.6 251.7,129.3 251.9,130.1 252.1,130.8 252.2,131.5 252.4,132.3 252.6,133.0 252.7,133.7 252.9,134.5 253.0,135.2 253.2,135.9 253.4,136.7 253.5,137.4 253.7,138.1 253.8,138.9 254.0,139.6 254.2,140.3 254.3,141.1 254.5,141.8 254.7,142.5 254.8,143.2 255.0,144.0 255.1,144.7 255.3,145.4 255.5,146.2 255.6,146.9 255.8,147.6 256.0,148.4 256.2,149.1 256.4,149.8 256.5,150.5 256.7,151.3 256.9,152.0 257.1,152.7 257.3,153.4 257.5,154.2 257.7,154.9 257.9,155.6 258.1,156.3 258.3,157.1 258.5,157.8 258.8,158.5 259.0,159.2 259.2,159.9 259.4,160.7 259.6,161.4 259.8,162.1 260.1,162.8 260.3,163.5 260.5,164.2 260.7,164.9 261.0,165.7 261.2,166.4 261.4,167.1 261.7,167.8 261.9,168.5 262.1,169.2 262.3,169.9 262.6,170.7 262.8,171.4 263.0,172.1 263.2,172.8 263.5,173.5 263.7,174.2 263.9,175.0 264.1,175.7 264.3,176.4 264.5,177.1 264.7,177.8 264.9,178.6 265.2,179.3 265.4,180.0 265.6,180.7 265.8,181.4 266.1,182.1 266.3,182.9 266.5,183.6 266.8,184.3 267.0,185.0 267.3,185.7 267.5,186.4 267.8,187.1 268.0,187.8 268.3,188.5 268.6,189.2 268.9,189.9 269.1,190.6 269.4,191.3 269.7,192.0 270.0,192.7 270.3,193.4 270.6,194.0 271.0,194.7 271.3,195.4 271.6,196.1 271.9,196.7 272.3,197.4 272.6,198.1 272.9,198.8 273.3,199.4 273.7,200.1 274.0,200.7 274.4,201.4 274.8,202.0 275.2,202.7 275.6,203.3 276.0,203.9 276.4,204.6 276.7,205.2 277.1,205.9 277.5,206.5 277.9,207.1 278.3,207.8 278.7,208.4 279.1,209.0 279.5,209.7 279.9,210.3 280.3,211.0 280.7,211.6 281.1,212.2 281.6,212.8 282.0,213.4 282.5,214.0 283.0,214.5 283.6,215.0 284.2,215.5 284.7,216.0 285.4,216.4 286.0,216.8 286.6,217.2 287.3,217.5 288.0,217.9 288.6,218.2 289.3,218.5 290.0,218.8 290.7,219.1 291.4,219.4 292.1,219.7 292.8,220.0 293.5,220.2 294.2,220.5 294.9,220.8 295.6,221.0 296.3,221.3 297.0,221.5 297.7,221.8 298.4,222.0 299.1,222.3 299.8,222.5 300.5,222.7 301.3,222.9 302.0,223.1 302.7,223.2 303.5,223.4 304.2,223.5 304.9,223.7 305.7,223.8 306.4,224.0 307.1,224.1 307.9,224.2 308.6,224.4 309.4,224.5 310.1,224.6 310.8,224.7 311.6,224.8 312.3,224.9 313.1,225.0 313.8,225.1 314.6,225.2 315.3,225.3 316.1,225.3 316.8,225.4" fill="none" stroke="#1a7a3e" stroke-width="2.1" stroke-linejoin="round"/>
<path d="M44.7,192.5 44.9,193.1 45.3,193.7 45.6,194.4 45.9,195.1 46.2,195.8 46.5,196.5 46.8,197.2 47.1,197.8 47.5,198.5 47.8,199.2 48.1,199.9 48.4,200.6 48.7,201.3 49.0,202.0 49.3,202.6 49.6,203.3 50.0,204.0 50.3,204.7 50.6,205.4 50.9,206.1 51.2,206.8 51.5,207.4 51.8,208.1 52.1,208.8 52.5,209.5 52.8,210.2 53.1,210.9 53.4,211.6 53.7,212.2 54.0,212.9 54.3,213.6 54.6,214.3 54.9,215.0 55.3,215.7 55.6,216.4 55.9,217.0 56.2,217.7 56.5,218.4 56.8,219.1 57.1,219.8 57.4,220.5 57.7,221.2 58.0,221.8 58.4,222.5 58.7,223.2 59.0,223.9 59.3,224.6 59.6,225.3 59.9,226.0 60.0,226.2 60.6,225.8 61.2,225.3 61.6,224.8 62.1,224.2 62.4,223.6 62.8,222.9 63.1,222.2 63.4,221.5 63.6,220.8 63.9,220.1 64.1,219.4 64.4,218.7 64.6,218.0 64.8,217.3 65.0,216.5 65.2,215.8 65.4,215.1 65.6,214.4 65.8,213.7 66.0,212.9 66.2,212.2 66.3,211.5 66.4,210.7 66.6,210.0 66.7,209.2 66.7,208.5 66.8,207.7 66.9,207.0 67.0,206.3 67.1,205.5 67.2,204.8 67.3,204.0 67.4,203.3 67.5,202.5 67.6,201.8 67.7,201.0 67.8,200.3 67.9,199.6 68.0,198.8 68.1,198.1 68.3,197.3 68.4,196.6 68.5,195.9 68.7,195.1 68.8,194.4 69.0,193.7 69.1,192.9 69.3,192.2 69.4,191.5 69.6,190.7 69.8,190.0 69.9,189.3 70.1,188.5 70.3,187.8 70.4,187.1 70.6,186.3 70.8,185.6 70.9,184.9 71.1,184.2 71.3,183.4 71.5,182.7 71.7,182.0 71.8,181.2 72.0,180.5 72.2,179.8 72.4,179.0 72.5,178.3 72.7,177.6 72.9,176.9 73.0,176.1 73.2,175.4 73.4,174.7 73.5,173.9 73.7,173.2 73.8,172.5 74.0,171.7 74.1,171.0 74.2,170.2 74.4,169.5 74.5,168.8 74.7,168.0 74.8,167.3 74.9,166.6 75.0,165.8 75.2,165.1 75.3,164.3 75.4,163.6 75.5,162.9 75.7,162.1 75.8,161.4 75.9,160.6 76.0,159.9 76.1,159.2 76.3,158.4 76.4,157.7 76.5,156.9 76.6,156.2 76.7,155.4 76.8,154.7 77.0,154.0 77.1,153.2 77.2,152.5 77.3,151.7 77.4,151.0 77.5,150.3 77.6,149.5 77.7,148.8 77.8,148.0 77.9,147.3 78.1,146.5 78.2,145.8 78.3,145.1 78.4,144.3 78.5,143.6 78.6,142.8 78.7,142.1 78.8,141.3 78.9,140.6 79.0,139.9 79.1,139.1 79.2,138.4 79.3,137.6 79.4,136.9 79.6,136.2 79.7,135.4 79.8,134.7 79.9,133.9 80.0,133.2 80.1,132.4 80.2,131.7 80.3,131.0 80.4,130.2 80.5,129.5 80.6,128.7 80.7,128.0 80.9,127.2 81.0,126.5 81.1,125.8 81.2,125.0 81.3,124.3 81.4,123.5 81.6,122.8 81.7,122.1 81.8,121.3 81.9,120.6 82.1,119.8 82.2,119.1 82.3,118.4 82.5,117.6 82.6,116.9 82.7,116.1 82.9,115.4 83.0,114.7 83.1,113.9 83.3,113.2 83.4,112.5 83.6,111.7 83.7,111.0 83.8,110.2 84.0,109.5 84.1,108.8 84.2,108.0 84.4,107.3 84.5,106.6 84.6,105.8 84.8,105.1 84.9,104.3 85.1,103.6 85.2,102.9 85.4,102.1 85.5,101.4 85.6,100.7 85.8,99.9 85.9,99.2 86.1,98.5 86.3,97.7 86.4,97.0 86.6,96.3 86.7,95.5 86.9,94.8 87.1,94.1 87.3,93.3 87.4,92.6 87.6,91.9 87.8,91.2 88.0,90.4 88.1,89.7 88.3,89.0 88.5,88.2 88.6,87.5 88.8,86.8 88.9,86.0 89.1,85.3 89.2,84.6 89.4,83.8 89.6,83.1 89.9,82.4 90.2,81.7 90.6,81.1 90.9,80.4 91.3,79.8 91.7,79.2 92.1,78.5 92.5,77.9 92.9,77.2 93.3,76.6 93.6,75.9 94.0,75.3 94.4,74.6 94.8,74.0 95.2,73.4 95.6,72.7 96.0,72.1 96.5,71.7 97.0,71.4 97.6,71.3 98.3,71.5 98.9,71.8 99.5,72.2 100.1,72.7 100.6,73.2 101.0,73.8 101.5,74.4 101.9,75.0 102.3,75.6 102.7,76.2 103.2,76.9 103.5,77.5 103.9,78.2 104.3,78.8 104.7,79.4 105.1,80.1 105.5,80.7 105.8,81.4 106.2,82.0 106.6,82.7 106.9,83.4 107.3,84.0 107.6,84.7 107.9,85.4 108.3,86.0 108.6,86.7 108.9,87.4 109.1,88.1 109.4,88.8 109.7,89.5 110.0,90.2 110.3,90.9 110.5,91.6 110.8,92.3 111.1,93.0 111.3,93.7 111.6,94.4 111.9,95.1 112.2,95.8 112.5,96.5 112.8,97.1 113.2,97.8 113.5,98.5 113.8,99.1 114.2,99.8 114.5,100.5 114.9,101.2 115.2,101.8 115.5,102.5 115.8,103.2 116.1,103.9 116.4,104.6 116.7,105.3 117.0,105.9 117.3,106.6 117.6,107.3 117.9,108.0 118.2,108.7 118.4,109.4 118.7,110.1 119.0,110.8 119.3,111.5 119.6,112.2 119.9,112.9 120.2,113.5 120.5,114.2 120.9,114.9 121.3,115.5 121.7,116.2 122.1,116.8 122.5,117.4 123.0,118.0 123.4,118.6 123.9,119.2 124.4,119.7 124.9,120.3 125.3,120.9 125.8,121.5 126.3,122.0 126.8,122.6 127.3,123.2 127.8,123.8 128.2,124.3 128.7,124.9 129.2,125.5 129.6,126.1 130.1,126.7 130.6,127.3 131.1,127.8 131.6,128.4 132.1,128.9 132.7,129.4 133.2,129.9 133.8,130.5 134.3,131.0 134.8,131.5 135.4,132.0 135.9,132.5 136.5,133.0 137.0,133.5 137.6,134.0 138.2,134.5 138.7,135.0 139.3,135.5 139.9,136.0 140.5,136.5 141.0,136.9 141.6,137.4 142.2,137.8 142.9,138.2 143.5,138.6 144.2,138.9 144.9,139.2 145.6,139.4 146.3,139.7 147.0,139.9 147.7,140.2 148.5,140.4 149.2,140.6 149.9,140.8 150.6,141.0 151.4,141.1 152.1,141.3 152.8,141.4 153.6,141.5 154.3,141.6 155.1,141.7 155.8,141.8 156.6,141.9 157.3,141.9 158.0,142.0 158.8,142.0 159.5,142.0 160.3,142.1 161.0,142.1 161.8,142.0 162.5,142.0 163.3,141.9 164.0,141.8 164.8,141.6 165.5,141.5 166.2,141.3 167.0,141.2 167.7,141.0 168.4,140.8 169.1,140.5 169.8,140.3 170.5,140.1 171.2,139.8 171.9,139.5 172.6,139.3 173.3,139.0 174.0,138.7 174.7,138.3 175.4,138.0 176.1,137.7 176.7,137.3 177.4,137.0 178.0,136.6 178.7,136.2 179.3,135.8 179.9,135.4 180.5,135.0 181.1,134.5 181.7,134.1 182.3,133.6 182.9,133.1 183.5,132.6 184.0,132.1 184.5,131.6 185.0,131.0 185.5,130.5 186.0,129.9 186.5,129.3 187.0,128.7 187.4,128.2 188.0,127.6 188.5,127.1 189.0,126.5 189.5,126.0 190.0,125.5 190.6,124.9 191.1,124.4 191.7,123.9 192.2,123.4 192.7,122.8 193.2,122.3 193.7,121.7 194.1,121.1 194.6,120.5 195.0,119.9 195.4,119.2 195.8,118.6 196.3,118.0 196.7,117.4 197.2,116.8 197.7,116.2 198.1,115.7 198.6,115.1 199.1,114.5 199.6,114.0 200.1,113.4 200.6,112.9 201.1,112.3 201.6,111.7 202.1,111.2 202.6,110.6 203.1,110.0 203.6,109.4 204.0,108.9 204.5,108.3 205.0,107.7 205.5,107.2 206.0,106.6 206.5,106.0 207.0,105.5 207.5,105.0 208.1,104.4 208.6,103.9 209.2,103.4 209.8,103.0 210.4,102.5 211.0,102.1 211.7,101.8 212.4,101.5 213.1,101.3 213.8,101.1 214.5,101.0 215.3,100.9 216.0,101.0 216.7,101.1 217.4,101.3 218.1,101.5 218.8,101.8 219.5,102.2 220.1,102.6 220.7,103.0 221.3,103.5 221.8,104.0 222.3,104.6 222.8,105.1 223.3,105.7 223.8,106.3 224.2,106.9 224.7,107.5 225.1,108.1 225.5,108.7 226.0,109.3 226.4,110.0 226.7,110.6 227.1,111.3 227.5,111.9 227.9,112.6 228.2,113.2 228.5,113.9 228.9,114.6 229.2,115.2 229.5,115.9 229.9,116.6 230.2,117.3 230.5,117.9 230.8,118.6 231.2,119.3 231.5,120.0 231.8,120.6 232.1,121.3 232.4,122.0 232.7,122.7 233.0,123.4 233.4,124.1 233.7,124.8 234.0,125.4 234.3,126.1 234.6,126.8 234.9,127.5 235.2,128.2 235.5,128.9 235.8,129.6 236.1,130.2 236.4,130.9 236.7,131.6 236.9,132.3 237.2,133.0 237.5,133.7 237.8,134.4 238.1,135.1 238.4,135.8 238.7,136.5 239.0,137.1 239.3,137.8 239.6,138.5 239.9,139.2 240.2,139.9 240.5,140.6 240.8,141.3 241.1,142.0 241.4,142.7 241.7,143.3 242.0,144.0 242.3,144.7 242.6,145.4 242.9,146.1 243.2,146.8 243.5,147.5 243.8,148.2 244.1,148.8 244.4,149.5 244.7,150.2 245.0,150.9 245.3,151.6 245.6,152.3 245.9,152.9 246.3,153.6 246.6,154.3 246.9,155.0 247.2,155.7 247.5,156.3 247.9,157.0 248.2,157.7 248.5,158.4 248.8,159.1 249.1,159.7 249.4,160.4 249.7,161.1 250.1,161.8 250.4,162.5 250.6,163.2 250.9,163.9 251.2,164.6 251.5,165.2 251.8,165.9 252.0,166.6 252.3,167.4 252.6,168.1 252.8,168.8 253.1,169.5 253.3,170.2 253.6,170.9 253.8,171.6 254.1,172.3 254.4,173.0 254.7,173.7 255.0,174.4 255.3,175.0 255.6,175.7 255.9,176.4 256.2,177.1 256.5,177.8 256.8,178.5 257.1,179.2 257.4,179.8 257.8,180.5 258.1,181.2 258.4,181.9 258.7,182.5 259.0,183.2 259.4,183.9 259.7,184.6 260.0,185.2 260.4,185.9 260.7,186.6 261.1,187.2 261.4,187.9 261.8,188.5 262.2,189.2 262.6,189.8 263.0,190.5 263.4,191.1 263.8,191.7 264.2,192.3 264.7,193.0 265.1,193.6 265.5,194.2 265.9,194.8 266.3,195.4 266.8,196.1 267.2,196.7 267.6,197.3 268.0,198.0 268.4,198.6 268.8,199.2 269.2,199.8 269.6,200.5 270.1,201.1 270.5,201.7 271.0,202.3 271.4,202.9 271.9,203.5 272.3,204.1 272.8,204.7 273.3,205.2 273.7,205.8 274.2,206.4 274.7,207.0 275.2,207.5 275.7,208.1 276.2,208.6 276.7,209.2 277.3,209.7 277.8,210.2 278.4,210.7 279.0,211.2 279.5,211.7 280.1,212.1 280.7,212.6 281.3,213.0 281.9,213.5 282.5,214.0 283.0,214.5 283.6,215.0 284.2,215.5 284.7,215.9 285.4,216.4 286.0,216.8 286.6,217.2 287.3,217.5 288.0,217.9 288.6,218.2 289.3,218.5 290.0,218.8 290.7,219.1 291.4,219.4 292.0,219.7 292.7,220.0 293.5,220.2 294.2,220.5 294.9,220.8 295.6,221.0 296.3,221.3 297.0,221.5 297.7,221.8 298.4,222.0 299.1,222.3 299.8,222.5 300.5,222.7 301.3,222.9 302.0,223.1 302.7,223.2 303.5,223.4 304.2,223.5 304.9,223.7 305.7,223.8 306.4,224.0 307.1,224.1 307.9,224.2 308.6,224.4 309.4,224.5 310.1,224.6 310.8,224.7 311.6,224.8 312.3,224.9 313.1,225.0 313.8,225.1 314.6,225.2 315.3,225.3 316.1,225.3 316.8,225.4" fill="none" stroke="#c0302a" stroke-width="2.1" stroke-linejoin="round"/>
<path d="M44.7,197.7 45.0,198.1 45.5,198.7 46.0,199.2 46.5,199.8 46.9,200.4 47.3,201.1 47.7,201.7 48.1,202.4 48.5,203.0 48.8,203.7 49.2,204.4 49.5,205.0 49.8,205.7 50.1,206.4 50.5,207.1 50.8,207.8 51.1,208.5 51.4,209.1 51.7,209.8 52.0,210.5 52.4,211.2 52.7,211.9 53.0,212.5 53.4,213.2 53.7,213.9 54.0,214.6 54.4,215.2 54.7,215.9 55.1,216.6 55.4,217.3 55.8,217.9 56.1,218.6 56.4,219.3 56.8,219.9 57.1,220.6 57.5,221.3 57.8,222.0 58.2,222.6 58.5,223.3 58.8,224.0 59.2,224.6 59.5,225.3 59.9,226.0 60.0,226.2 60.5,225.6 60.9,225.0 61.3,224.4 61.7,223.8 62.1,223.1 62.4,222.4 62.8,221.8 63.1,221.1 63.4,220.4 63.7,219.7 64.0,219.0 64.2,218.3 64.5,217.6 64.8,216.9 65.0,216.2 65.3,215.5 65.6,214.8 65.8,214.1 66.0,213.4 66.3,212.7 66.5,212.0 66.7,211.3 67.0,210.5 67.2,209.8 67.3,209.1 67.5,208.4 67.7,207.6 67.9,206.9 68.1,206.2 68.2,205.4 68.4,204.7 68.6,204.0 68.7,203.3 68.9,202.5 69.1,201.8 69.3,201.1 69.4,200.3 69.6,199.6 69.8,198.9 69.9,198.1 70.1,197.4 70.3,196.7 70.4,195.9 70.6,195.2 70.8,194.5 70.9,193.7 71.1,193.0 71.2,192.3 71.4,191.5 71.6,190.8 71.7,190.1 71.9,189.3 72.0,188.6 72.2,187.9 72.3,187.1 72.5,186.4 72.6,185.7 72.8,184.9 72.9,184.2 73.1,183.5 73.3,182.7 73.4,182.0 73.6,181.3 73.7,180.5 73.9,179.8 74.0,179.1 74.2,178.3 74.3,177.6 74.5,176.9 74.7,176.1 74.8,175.4 75.0,174.7 75.1,173.9 75.3,173.2 75.5,172.5 75.6,171.7 75.8,171.0 75.9,170.3 76.1,169.5 76.3,168.8 76.4,168.1 76.6,167.4 76.8,166.6 76.9,165.9 77.1,165.2 77.3,164.4 77.5,163.7 77.6,163.0 77.8,162.2 78.0,161.5 78.1,160.8 78.3,160.0 78.5,159.3 78.7,158.6 78.8,157.9 79.0,157.1 79.2,156.4 79.3,155.7 79.5,154.9 79.7,154.2 79.8,153.5 80.0,152.7 80.2,152.0 80.3,151.3 80.5,150.5 80.7,149.8 80.8,149.1 81.0,148.4 81.2,147.6 81.3,146.9 81.5,146.2 81.7,145.4 81.8,144.7 82.0,144.0 82.2,143.2 82.3,142.5 82.5,141.8 82.7,141.0 82.8,140.3 83.0,139.6 83.2,138.8 83.3,138.1 83.5,137.4 83.7,136.7 83.9,135.9 84.0,135.2 84.2,134.5 84.4,133.7 84.6,133.0 84.8,132.3 85.0,131.6 85.2,130.9 85.4,130.1 85.7,129.4 85.9,128.7 86.1,128.0 86.4,127.3 86.6,126.6 86.8,125.9 87.0,125.1 87.3,124.4 87.5,123.7 87.7,123.0 87.9,122.3 88.0,121.5 88.2,120.8 88.4,120.1 88.6,119.3 88.8,118.6 88.9,117.9 89.1,117.2 89.4,116.4 89.6,115.7 89.8,115.0 90.2,114.4 90.5,113.7 90.9,113.0 91.2,112.4 91.6,111.7 92.0,111.1 92.3,110.4 92.6,109.7 93.0,109.1 93.3,108.4 93.6,107.7 93.8,107.0 94.1,106.3 94.4,105.6 94.7,104.9 94.9,104.2 95.2,103.5 95.5,102.8 95.8,102.1 96.2,101.5 96.5,100.8 96.8,100.1 97.2,99.5 97.7,98.9 98.2,98.3 98.7,97.8 99.3,97.4 99.9,97.1 100.6,96.8 101.3,96.7 102.0,96.7 102.8,96.8 103.5,97.0 104.2,97.2 104.8,97.6 105.5,97.9 106.1,98.4 106.7,98.8 107.2,99.3 107.7,99.9 108.2,100.4 108.7,101.0 109.2,101.6 109.7,102.2 110.1,102.8 110.5,103.4 111.0,104.0 111.4,104.6 111.9,105.2 112.3,105.8 112.7,106.4 113.2,107.0 113.6,107.7 114.0,108.3 114.4,108.9 114.9,109.5 115.3,110.1 115.7,110.8 116.1,111.4 116.5,112.0 117.0,112.6 117.4,113.2 117.8,113.9 118.2,114.5 118.7,115.1 119.1,115.7 119.5,116.3 120.0,116.9 120.4,117.5 120.9,118.1 121.3,118.7 121.8,119.3 122.2,119.9 122.7,120.5 123.2,121.1 123.6,121.7 124.1,122.3 124.6,122.9 125.0,123.5 125.5,124.0 126.0,124.6 126.4,125.2 126.9,125.8 127.4,126.4 127.8,127.0 128.3,127.6 128.8,128.1 129.3,128.7 129.8,129.3 130.3,129.8 130.8,130.3 131.4,130.8 131.9,131.4 132.5,131.9 133.0,132.4 133.6,132.9 134.1,133.4 134.7,133.9 135.2,134.4 135.8,134.9 136.4,135.4 137.0,135.8 137.6,136.3 138.2,136.7 138.8,137.2 139.4,137.6 140.0,138.1 140.6,138.5 141.2,138.9 141.9,139.3 142.5,139.7 143.2,140.0 143.9,140.3 144.6,140.6 145.3,140.9 146.0,141.1 146.7,141.3 147.4,141.6 148.1,141.8 148.8,142.0 149.6,142.1 150.3,142.3 151.0,142.5 151.8,142.6 152.5,142.8 153.2,142.9 154.0,143.0 154.7,143.1 155.5,143.1 156.2,143.2 157.0,143.3 157.7,143.3 158.5,143.3 159.2,143.4 160.0,143.4 160.7,143.4 161.5,143.3 162.2,143.2 163.0,143.2 163.7,143.1 164.4,143.0 165.2,142.8 165.9,142.7 166.6,142.5 167.4,142.4 168.1,142.2 168.8,141.9 169.5,141.7 170.2,141.5 170.9,141.2 171.6,141.0 172.3,140.7 173.0,140.4 173.7,140.1 174.4,139.8 175.1,139.5 175.8,139.2 176.5,138.8 177.1,138.5 177.8,138.1 178.4,137.8 179.1,137.4 179.7,137.0 180.3,136.5 180.9,136.1 181.5,135.6 182.1,135.2 182.7,134.8 183.3,134.3 183.9,133.9 184.5,133.4 185.1,133.0 185.7,132.5 186.3,132.1 186.9,131.6 187.5,131.2 188.1,130.7 188.7,130.2 189.3,129.8 189.9,129.3 190.4,128.8 191.0,128.3 191.6,127.8 192.1,127.3 192.7,126.9 193.3,126.4 193.9,125.9 194.4,125.4 195.0,124.9 195.6,124.4 196.2,124.0 196.8,123.5 197.4,123.1 198.0,122.7 198.7,122.3 199.3,122.0 200.0,121.7 200.7,121.4 201.4,121.2 202.1,121.0 202.9,120.9 203.6,120.8 204.4,120.7 205.1,120.7 205.9,120.7 206.6,120.7 207.3,120.8 208.1,120.9 208.8,121.1 209.5,121.3 210.2,121.5 210.9,121.8 211.6,122.1 212.3,122.4 213.0,122.8 213.6,123.2 214.2,123.6 214.8,124.0 215.4,124.5 215.9,125.0 216.5,125.6 217.0,126.1 217.5,126.7 218.0,127.2 218.4,127.8 218.9,128.4 219.3,129.0 219.7,129.6 220.2,130.3 220.6,130.9 221.0,131.5 221.5,132.1 221.9,132.7 222.4,133.3 222.9,133.8 223.4,134.4 223.9,135.0 224.3,135.6 224.8,136.1 225.3,136.7 225.8,137.3 226.2,137.9 226.7,138.5 227.1,139.1 227.6,139.7 228.0,140.3 228.4,140.9 228.8,141.6 229.2,142.2 229.6,142.8 230.0,143.5 230.4,144.1 230.8,144.8 231.1,145.4 231.5,146.1 231.9,146.7 232.2,147.4 232.6,148.0 233.0,148.7 233.4,149.3 233.7,150.0 234.1,150.6 234.5,151.3 234.8,152.0 235.2,152.6 235.6,153.3 235.9,153.9 236.3,154.6 236.6,155.2 237.0,155.9 237.4,156.5 237.7,157.2 238.1,157.9 238.5,158.5 238.8,159.2 239.2,159.8 239.5,160.5 239.9,161.1 240.3,161.8 240.7,162.4 241.0,163.1 241.4,163.8 241.8,164.4 242.1,165.1 242.5,165.7 242.9,166.4 243.2,167.0 243.6,167.7 244.0,168.3 244.4,169.0 244.7,169.6 245.1,170.3 245.5,170.9 245.9,171.6 246.2,172.2 246.6,172.9 247.0,173.5 247.3,174.2 247.7,174.8 248.1,175.5 248.4,176.1 248.8,176.8 249.2,177.5 249.5,178.1 249.9,178.7 250.3,179.4 250.7,180.0 251.1,180.7 251.5,181.3 251.9,182.0 252.3,182.6 252.7,183.2 253.1,183.9 253.5,184.5 253.9,185.1 254.3,185.8 254.7,186.4 255.1,187.0 255.5,187.6 255.9,188.3 256.3,188.9 256.7,189.5 257.1,190.2 257.5,190.8 257.9,191.4 258.4,192.1 258.8,192.7 259.2,193.3 259.6,193.9 260.0,194.5 260.5,195.1 260.9,195.8 261.4,196.4 261.8,197.0 262.2,197.6 262.7,198.2 263.1,198.8 263.6,199.4 264.1,199.9 264.5,200.5 265.0,201.1 265.5,201.7 266.0,202.3 266.4,202.9 266.9,203.4 267.4,204.0 267.9,204.6 268.4,205.1 268.9,205.7 269.4,206.3 269.9,206.8 270.4,207.4 270.9,208.0 271.4,208.5 271.9,209.1 272.4,209.6 272.9,210.1 273.5,210.6 274.0,211.1 274.6,211.6 275.1,212.1 275.7,212.6 276.3,213.1 276.8,213.6 277.4,214.1 278.0,214.6 278.6,215.1 279.2,215.5 279.8,216.0 280.4,216.4 281.0,216.9 281.6,217.3 282.2,217.7 282.8,218.1 283.5,218.5 284.1,218.8 284.8,219.2 285.5,219.5 286.2,219.8 286.9,220.1 287.5,220.4 288.2,220.7 288.9,221.0 289.6,221.3 290.3,221.5 291.0,221.8 291.8,222.0 292.5,222.2 293.2,222.5 293.9,222.7 294.6,222.9 295.3,223.1 296.1,223.3 296.8,223.5 297.5,223.7 298.2,223.9 299.0,224.1 299.7,224.3 300.4,224.4 301.2,224.6 301.9,224.7 302.6,224.9 303.4,225.0 304.1,225.1 304.9,225.2 305.6,225.3 306.3,225.4 307.1,225.5 307.8,225.6 308.6,225.6 309.3,225.7 310.1,225.8 310.8,225.9 311.6,226.0 312.3,226.0 313.1,226.1 313.8,226.1 314.6,226.2 315.3,226.2 316.1,226.3 316.8,226.3" fill="none" stroke="#5fc0c2" stroke-width="2.1" stroke-linejoin="round"/>
<path d="M403.2,118.2 403.3,118.5 403.4,119.2 403.6,119.9 403.8,120.7 404.0,121.4 404.1,122.1 404.3,122.9 404.5,123.6 404.6,124.3 404.8,125.0 405.0,125.8 405.1,126.5 405.3,127.2 405.4,128.0 405.6,128.7 405.7,129.5 405.9,130.2 406.0,130.9 406.2,131.7 406.3,132.4 406.5,133.1 406.6,133.9 406.8,134.6 406.9,135.3 407.0,136.1 407.2,136.8 407.3,137.6 407.4,138.3 407.5,139.0 407.7,139.8 407.8,140.5 407.9,141.3 408.0,142.0 408.1,142.7 408.2,143.5 408.3,144.2 408.4,145.0 408.5,145.7 408.6,146.5 408.7,147.2 408.8,147.9 408.9,148.7 409.0,149.4 409.1,150.2 409.2,150.9 409.3,151.7 409.4,152.4 409.5,153.1 409.6,153.9 409.7,154.6 409.8,155.4 409.9,156.1 410.0,156.9 410.1,157.6 410.1,158.4 410.2,159.1 410.3,159.8 410.4,160.6 410.5,161.3 410.6,162.1 410.7,162.8 410.7,163.6 410.8,164.3 410.9,165.1 411.0,165.8 411.1,166.6 411.1,167.3 411.2,168.0 411.3,168.8 411.4,169.5 411.4,170.3 411.5,171.0 411.6,171.8 411.7,172.5 411.7,173.3 411.8,174.0 411.9,174.8 412.0,175.5 412.0,176.3 412.1,177.0 412.2,177.8 412.2,178.5 412.3,179.2 412.4,180.0 412.5,180.7 412.5,181.5 412.6,182.2 412.7,183.0 412.8,183.7 412.8,184.5 412.9,185.2 413.0,186.0 413.1,186.7 413.2,187.4 413.3,188.2 413.4,188.9 413.4,189.7 413.5,190.4 413.6,191.2 413.7,191.9 413.8,192.7 413.9,193.4 414.0,194.2 414.1,194.9 414.2,195.6 414.2,196.4 414.3,197.1 414.4,197.9 414.5,198.6 414.5,199.4 414.6,200.1 414.7,200.9 414.7,201.6 414.8,202.4 414.9,203.1 414.9,203.9 415.0,204.6 415.0,205.4 415.1,206.1 415.1,206.8 415.2,207.6 415.2,208.3 415.3,209.1 415.3,209.8 415.4,210.6 415.5,211.3 415.5,212.1 415.6,212.8 415.6,213.6 415.7,214.3 415.7,215.1 415.8,215.8 415.8,216.6 415.9,217.3 416.0,218.1 416.0,218.8 416.1,219.6 416.1,220.3 416.2,221.1 416.2,221.8 416.3,222.6 416.3,223.3 416.4,224.1 416.4,224.8 416.5,225.6 416.5,225.8 417.2,226.1 417.9,226.4 418.6,226.6 419.3,226.7 420.0,226.8 420.8,226.8 421.5,226.8 422.3,226.8 423.0,226.8 423.8,226.8 424.5,226.8 425.3,226.8 426.0,226.8 426.8,226.8 427.5,226.8 428.3,226.8 429.0,226.8 429.8,226.8 430.5,226.8 431.3,226.8 432.0,226.8 432.8,226.8 433.5,226.8 434.3,226.8 435.1,226.8 435.8,226.8 436.6,226.8 437.3,226.8 438.1,226.8 438.8,226.8 439.6,226.8 440.3,226.8 441.1,226.8 441.8,226.8 442.6,226.8 443.3,226.8 444.1,226.8 444.8,226.8 445.6,226.8 446.3,226.8 447.1,226.8 447.8,226.8 448.6,226.8 449.3,226.8 450.1,226.8 450.8,226.8 451.6,226.8 452.3,226.8 453.1,226.8 453.8,226.8 454.6,226.8 455.3,226.8 456.1,226.8 456.8,226.8 457.6,226.8 458.3,226.8 459.1,226.8 459.8,226.8 460.6,226.8 461.3,226.8 462.1,226.8 462.8,226.8 463.6,226.8 464.3,226.8 465.1,226.8 465.8,226.8 466.6,226.8 467.3,226.8 468.1,226.8 468.8,226.8 469.6,226.8 470.3,226.8 471.1,226.8 471.8,226.8 472.6,226.9 473.3,226.9 474.1,226.9 474.8,226.9 475.6,226.9 476.3,226.9 477.1,226.9 477.8,226.9 478.6,226.9 479.3,226.9 480.1,226.9 480.8,226.9 481.6,226.9 482.3,226.9 483.1,226.9 483.8,226.9 484.6,226.9 485.3,226.9 486.1,226.9 486.8,226.9 487.6,226.9 488.3,226.9 489.1,226.9 489.8,226.9 490.6,226.9 491.3,226.9 492.1,226.9 492.8,226.9 493.6,226.9 494.4,226.9 495.1,226.9 495.9,226.9 496.6,226.9 497.4,226.9 498.1,226.9 498.9,226.9 499.6,226.9 500.4,226.9 501.1,226.9 501.9,226.9 502.6,226.9 503.4,226.9 504.1,226.9 504.9,226.9 505.6,226.9 506.4,226.9 507.1,226.9 507.9,226.9 508.6,226.9 509.4,226.9 510.1,226.9 510.9,226.9 511.6,226.9 512.4,226.9 513.1,226.9 513.9,226.9 514.6,226.9 515.4,226.9 516.1,226.9 516.9,226.9 517.6,226.9 518.4,226.9 519.1,226.9 519.9,226.9 520.6,226.9 521.4,226.9 522.1,226.9 522.9,226.9 523.6,226.9 524.4,226.9 525.1,226.9 525.9,226.9 526.6,226.9 527.4,226.9 528.1,226.9 528.9,226.9 529.6,226.9 530.4,226.9 531.1,226.9 531.9,226.9 532.6,226.9 533.4,226.9 534.1,226.9 534.9,226.9 535.6,226.9 536.4,226.9 537.1,226.9 537.9,226.9 538.6,226.9 539.4,226.9 540.1,226.9 540.9,226.9 541.6,226.9 542.4,226.9 543.1,226.9 543.9,226.9 544.6,226.9 545.4,226.9 546.1,226.9 546.9,226.9 547.6,226.9 548.4,226.9 549.1,226.9 549.9,226.9 550.6,226.9 551.4,226.9 552.1,226.9 552.9,226.9 553.6,226.9 554.4,226.9 555.2,226.9 555.9,226.9 556.7,226.9 557.4,226.9 558.2,226.9 558.9,226.9 559.7,226.9 560.4,226.9 561.2,226.9 561.9,226.9 562.7,226.9 563.4,226.9 564.2,226.9 564.9,226.9 565.7,226.9 566.4,226.9 567.2,226.9 567.9,226.9 568.7,226.9 569.4,226.9 570.2,226.9 570.9,226.9 571.7,226.9 572.4,226.9 573.2,226.9 573.9,226.9 574.7,226.9 575.4,226.9 576.2,226.9 576.9,226.9 577.7,226.9 578.4,226.9 579.2,226.9 579.9,226.9 580.7,226.9 581.4,226.9 582.2,226.9 582.9,226.9 583.7,226.9 584.4,226.9 585.2,226.9 585.9,226.9 586.7,226.9 587.4,226.9 588.2,226.9 588.9,226.9 589.7,226.9 590.4,226.9 591.2,226.9 591.9,226.9 592.7,226.9 593.4,226.9 594.2,226.9 594.9,226.9 595.7,226.9 596.4,226.9 597.2,226.9 597.9,226.9 598.7,226.9 599.4,226.9 600.2,226.9 600.9,226.9 601.7,226.9 602.4,226.9 603.2,226.9 603.9,226.9 604.7,226.9 605.4,226.9 606.2,226.9 606.9,226.9 607.7,226.9 608.4,226.9 609.2,226.9 609.9,226.9 610.7,226.9 611.4,226.9 612.2,226.9 612.9,226.9 613.7,226.9 614.4,226.9 615.2,226.9 616.0,226.9 616.7,226.9 617.5,226.9 618.2,226.9 619.0,226.9 619.7,226.9 620.5,226.9 621.2,226.9 622.0,226.9 622.7,226.9 623.5,226.9 624.2,226.9 625.0,226.9 625.7,226.9 626.5,226.9 627.2,226.9 628.0,226.9 628.7,226.9 629.5,226.9 630.2,226.9 631.0,226.9 631.7,226.9 632.5,226.9 633.2,226.9 634.0,226.9 634.7,226.9 635.5,226.9 636.2,226.9 637.0,226.9 637.7,226.9 638.5,226.9 639.2,226.9 640.0,226.9 640.7,226.9 641.5,226.9 642.2,226.9 643.0,226.9 643.7,226.9 644.5,226.9 645.2,226.9 646.0,226.9 646.7,226.9 647.5,226.9 648.2,226.9 649.0,226.9 649.7,226.9 650.5,226.9 651.2,226.9 652.0,226.9 652.7,226.9 653.5,226.9 654.2,226.9 655.0,226.9 655.7,226.9 656.5,226.9 657.2,226.9 658.0,226.9 658.7,226.9 659.5,226.9 660.2,226.9 661.0,226.9 661.7,226.9 662.5,226.9 663.2,226.9 664.0,226.9 664.7,226.9 665.5,226.9 666.2,226.9 667.0,226.9 667.7,226.9 668.5,226.9 669.2,226.9 670.0,226.9 670.7,226.9 671.5,226.9 672.2,226.9 673.0,226.9 673.7,226.9 674.5,226.9 675.2,226.9 675.5,226.9" fill="none" stroke="#3c3e8e" stroke-width="2.1" stroke-linejoin="round"/>
<path d="M403.2,118.2 403.3,118.5 403.4,119.2 403.6,119.9 403.8,120.7 404.0,121.4 404.1,122.1 404.3,122.9 404.5,123.6 404.6,124.3 404.8,125.0 405.0,125.8 405.1,126.5 405.3,127.2 405.4,128.0 405.6,128.7 405.7,129.5 405.9,130.2 406.0,130.9 406.2,131.7 406.3,132.4 406.5,133.1 406.6,133.9 406.8,134.6 406.9,135.3 407.0,136.1 407.2,136.8 407.3,137.6 407.4,138.3 407.5,139.0 407.7,139.8 407.8,140.5 407.9,141.3 408.0,142.0 408.1,142.7 408.2,143.5 408.3,144.2 408.4,145.0 408.5,145.7 408.6,146.5 408.7,147.2 408.8,147.9 408.9,148.7 409.0,149.4 409.1,150.2 409.2,150.9 409.3,151.7 409.4,152.4 409.5,153.1 409.6,153.9 409.7,154.6 409.8,155.4 409.9,156.1 410.0,156.9 410.1,157.6 410.1,158.4 410.2,159.1 410.3,159.8 410.4,160.6 410.5,161.3 410.6,162.1 410.7,162.8 410.7,163.6 410.8,164.3 410.9,165.1 411.0,165.8 411.1,166.6 411.1,167.3 411.2,168.0 411.3,168.8 411.4,169.5 411.4,170.3 411.5,171.0 411.6,171.8 411.7,172.5 411.7,173.3 411.8,174.0 411.9,174.8 412.0,175.5 412.0,176.3 412.1,177.0 412.2,177.8 412.2,178.5 412.3,179.2 412.4,180.0 412.5,180.7 412.5,181.5 412.6,182.2 412.7,183.0 412.8,183.7 412.8,184.5 412.9,185.2 413.0,186.0 413.1,186.7 413.2,187.4 413.3,188.2 413.4,188.9 413.4,189.7 413.5,190.4 413.6,191.2 413.7,191.9 413.8,192.7 413.9,193.4 414.0,194.2 414.1,194.9 414.2,195.6 414.2,196.4 414.3,197.1 414.4,197.9 414.5,198.6 414.5,199.4 414.6,200.1 414.7,200.9 414.7,201.6 414.8,202.4 414.9,203.1 414.9,203.9 415.0,204.6 415.0,205.4 415.1,206.1 415.1,206.8 415.2,207.6 415.2,208.3 415.3,209.1 415.3,209.8 415.4,210.6 415.5,211.3 415.5,212.1 415.6,212.8 415.6,213.6 415.7,214.3 415.7,215.1 415.8,215.8 415.8,216.6 415.9,217.3 416.0,218.1 416.0,218.8 416.1,219.6 416.1,220.3 416.2,221.1 416.2,221.8 416.3,222.6 416.3,223.3 416.4,224.1 416.4,224.8 416.5,225.6 416.5,225.8 417.2,225.7 418.0,225.6 418.7,225.5 419.5,225.4 420.2,225.3 421.0,225.1 421.7,225.0 422.4,224.8 423.2,224.7 423.9,224.5 424.6,224.3 425.3,224.0 426.0,223.8 426.7,223.4 427.3,223.1 427.9,222.7 428.5,222.2 429.1,221.7 429.6,221.2 430.1,220.6 430.6,220.1 431.1,219.5 431.5,218.9 432.0,218.3 432.4,217.7 432.9,217.1 433.3,216.5 433.7,215.8 434.2,215.2 434.6,214.6 435.0,214.0 435.4,213.3 435.8,212.7 436.2,212.0 436.5,211.4 436.9,210.7 437.2,210.1 437.6,209.4 438.0,208.8 438.4,208.1 438.8,207.5 439.2,206.9 439.6,206.2 440.0,205.6 440.5,205.0 441.0,204.5 441.5,204.0 442.1,203.6 442.8,203.3 443.5,203.0 444.2,203.0 444.9,203.0 445.5,203.2 446.2,203.6 446.8,204.0 447.4,204.4 447.9,205.0 448.4,205.5 448.8,206.1 449.3,206.7 449.7,207.4 450.1,208.0 450.5,208.6 450.9,209.2 451.3,209.9 451.7,210.5 452.1,211.2 452.5,211.8 452.8,212.5 453.1,213.2 453.4,213.9 453.7,214.5 454.0,215.2 454.3,215.9 454.7,216.6 455.0,217.3 455.4,217.9 455.7,218.6 456.1,219.2 456.6,219.8 457.0,220.4 457.5,221.0 458.0,221.5 458.6,222.0 459.2,222.4 459.8,222.9 460.4,223.2 461.1,223.6 461.8,223.9 462.5,224.2 463.2,224.5 463.9,224.7 464.6,225.0 465.3,225.2 466.0,225.3 466.8,225.5 467.5,225.6 468.3,225.8 469.0,225.9 469.7,226.0 470.5,226.0 471.2,226.1 472.0,226.2 472.7,226.2 473.5,226.3 474.2,226.3 475.0,226.4 475.7,226.4 476.5,226.4 477.2,226.4 478.0,226.5 478.7,226.5 479.5,226.5 480.2,226.5 481.0,226.5 481.7,226.5 482.5,226.5 483.2,226.5 484.0,226.5 484.7,226.5 485.5,226.5 486.2,226.5 487.0,226.5 487.7,226.5 488.5,226.5 489.2,226.5 490.0,226.5 490.7,226.5 491.5,226.5 492.2,226.5 493.0,226.5 493.7,226.5 494.5,226.5 495.2,226.5 496.0,226.5 496.7,226.5 497.5,226.5 498.2,226.5 499.0,226.5 499.7,226.5 500.5,226.5 501.2,226.5 502.0,226.5 502.7,226.5 503.5,226.5 504.2,226.5 505.0,226.5 505.7,226.5 506.5,226.5 507.2,226.5 508.0,226.5 508.7,226.5 509.5,226.5 510.2,226.5 511.0,226.5 511.7,226.5 512.5,226.5 513.2,226.5 514.0,226.5 514.7,226.5 515.5,226.5 516.2,226.5 517.0,226.5 517.7,226.5 518.5,226.5 519.2,226.5 520.0,226.5 520.7,226.5 521.5,226.5 522.3,226.5 523.0,226.5 523.8,226.5 524.5,226.5 525.3,226.5 526.0,226.5 526.8,226.5 527.5,226.5 528.3,226.5 529.0,226.5 529.8,226.5 530.5,226.5 531.3,226.5 532.0,226.5 532.8,226.5 533.5,226.5 534.3,226.5 535.0,226.5 535.8,226.5 536.5,226.5 537.3,226.5 538.0,226.5 538.8,226.5 539.5,226.5 540.3,226.5 541.0,226.5 541.8,226.5 542.5,226.5 543.3,226.5 544.0,226.5 544.8,226.5 545.5,226.5 546.3,226.5 547.0,226.5 547.8,226.5 548.5,226.4 549.3,226.4 550.0,226.4 550.8,226.3 551.5,226.3 552.3,226.3 553.0,226.2 553.8,226.2 554.5,226.1 555.3,226.1 556.0,226.0 556.8,226.0 557.5,225.9 558.2,225.8 559.0,225.7 559.7,225.6 560.5,225.5 561.2,225.4 562.0,225.3 562.7,225.2 563.4,225.0 564.2,224.9 564.9,224.7 565.6,224.5 566.4,224.4 567.1,224.1 567.8,223.9 568.5,223.7 569.2,223.4 569.9,223.1 570.5,222.7 571.2,222.4 571.8,222.0 572.5,221.6 573.1,221.2 573.7,220.7 574.3,220.3 574.8,219.8 575.4,219.2 575.9,218.7 576.4,218.1 576.8,217.5 577.3,216.9 577.7,216.3 578.1,215.7 578.5,215.0 578.9,214.4 579.2,213.7 579.6,213.0 579.9,212.4 580.2,211.7 580.6,211.0 580.9,210.3 581.2,209.7 581.4,209.0 581.7,208.3 582.0,207.6 582.2,206.8 582.4,206.1 582.6,205.4 582.9,204.7 583.1,204.0 583.3,203.2 583.5,202.5 583.7,201.8 583.9,201.1 584.1,200.4 584.3,199.6 584.6,198.9 584.8,198.2 585.1,197.5 585.3,196.8 585.6,196.1 585.9,195.4 586.2,194.7 586.4,194.0 586.7,193.3 587.0,192.6 587.3,191.9 587.5,191.2 587.8,190.5 588.1,189.8 588.3,189.1 588.6,188.4 588.8,187.7 589.1,187.0 589.4,186.3 589.6,185.6 589.9,184.9 590.1,184.2 590.4,183.5 590.6,182.8 590.9,182.1 591.2,181.4 591.4,180.7 591.7,180.0 592.0,179.3 592.2,178.6 592.5,177.9 592.8,177.2 593.1,176.5 593.4,175.8 593.7,175.1 594.1,174.5 594.5,173.8 594.9,173.2 595.4,172.6 595.9,172.1 596.4,171.6 597.0,171.1 597.6,170.6 598.2,170.2 598.8,169.9 599.5,169.6 600.2,169.5 600.9,169.6 601.6,169.7 602.3,170.0 603.0,170.4 603.6,170.8 604.2,171.2 604.8,171.7 605.3,172.2 605.8,172.8 606.3,173.3 606.7,173.9 607.1,174.6 607.5,175.2 607.9,175.9 608.2,176.5 608.6,177.2 608.9,177.8 609.3,178.5 609.6,179.2 610.0,179.8 610.3,180.5 610.7,181.2 611.0,181.8 611.4,182.5 611.7,183.2 612.0,183.8 612.4,184.5 612.7,185.2 613.0,185.9 613.4,186.5 613.7,187.2 614.0,187.9 614.4,188.6 614.7,189.2 615.0,189.9 615.3,190.6 615.6,191.3 615.9,192.0 616.3,192.6 616.6,193.3 616.9,194.0 617.2,194.7 617.5,195.4 617.7,196.1 618.0,196.8 618.3,197.5 618.6,198.2 618.9,198.9 619.1,199.6 619.4,200.3 619.7,201.0 619.9,201.7 620.2,202.4 620.5,203.1 620.7,203.8 621.0,204.5 621.2,205.2 621.5,205.9 621.8,206.6 622.1,207.3 622.4,208.0 622.7,208.6 623.0,209.3 623.4,210.0 623.7,210.6 624.1,211.3 624.5,211.9 624.9,212.6 625.3,213.2 625.7,213.8 626.2,214.4 626.6,215.0 627.1,215.6 627.6,216.2 628.1,216.7 628.6,217.3 629.1,217.8 629.7,218.3 630.3,218.8 630.8,219.3 631.4,219.7 632.0,220.2 632.7,220.6 633.3,221.0 633.9,221.4 634.6,221.7 635.3,222.1 635.9,222.4 636.6,222.7 637.3,223.0 638.0,223.3 638.7,223.5 639.4,223.8 640.2,224.0 640.9,224.2 641.6,224.3 642.3,224.5 643.1,224.7 643.8,224.8 644.5,224.9 645.3,225.0 646.0,225.1 646.8,225.2 647.5,225.3 648.3,225.4 649.0,225.5 649.8,225.6 650.5,225.6 651.3,225.7 652.0,225.7 652.8,225.8 653.5,225.9 654.2,225.9 655.0,225.9 655.7,226.0 656.5,226.0 657.2,226.1 658.0,226.1 658.7,226.1 659.5,226.2 660.2,226.2 661.0,226.2 661.7,226.3 662.5,226.3 663.2,226.3 664.0,226.3 664.7,226.3 665.5,226.4 666.2,226.4 667.0,226.4 667.7,226.4 668.5,226.4 669.2,226.4 670.0,226.4 670.7,226.5 671.5,226.5 672.2,226.5 673.0,226.5 673.7,226.5 674.5,226.5 675.2,226.5 675.5,226.5" fill="none" stroke="#1a7a3e" stroke-width="2.1" stroke-linejoin="round"/>
<path d="M403.2,121.1 403.2,121.2 403.4,121.9 403.6,122.6 403.8,123.4 404.0,124.1 404.2,124.8 404.4,125.6 404.6,126.3 404.8,127.0 405.0,127.7 405.2,128.4 405.4,129.2 405.6,129.9 405.8,130.6 406.0,131.3 406.2,132.1 406.4,132.8 406.7,133.5 406.9,134.2 407.1,134.9 407.3,135.6 407.6,136.4 407.8,137.1 408.0,137.8 408.2,138.5 408.4,139.2 408.6,140.0 408.7,140.7 408.9,141.4 409.0,142.2 409.1,142.9 409.3,143.7 409.4,144.4 409.5,145.2 409.6,145.9 409.7,146.6 409.8,147.4 409.9,148.1 410.0,148.9 410.1,149.6 410.3,150.4 410.4,151.1 410.5,151.8 410.6,152.6 410.7,153.3 410.8,154.1 410.9,154.8 411.1,155.6 411.2,156.3 411.3,157.0 411.4,157.8 411.5,158.5 411.6,159.3 411.7,160.0 411.8,160.8 411.9,161.5 412.0,162.2 412.1,163.0 412.2,163.7 412.3,164.5 412.4,165.2 412.5,166.0 412.6,166.7 412.7,167.5 412.8,168.2 412.9,169.0 412.9,169.7 413.0,170.4 413.1,171.2 413.2,171.9 413.2,172.7 413.3,173.4 413.4,174.2 413.5,174.9 413.5,175.7 413.6,176.4 413.7,177.2 413.8,177.9 413.8,178.7 413.9,179.4 414.0,180.2 414.1,180.9 414.1,181.7 414.2,182.4 414.3,183.2 414.4,183.9 414.5,184.6 414.5,185.4 414.6,186.1 414.7,186.9 414.8,187.6 414.9,188.4 415.0,189.1 415.1,189.9 415.2,190.6 415.2,191.4 415.3,192.1 415.4,192.9 415.5,193.6 415.6,194.3 415.7,195.1 415.8,195.8 415.9,196.6 416.0,197.3 416.1,198.1 416.2,198.8 416.2,199.6 416.3,200.3 416.4,201.1 416.5,201.8 416.6,202.6 416.7,203.3 416.8,204.0 416.9,204.8 417.0,205.5 417.1,206.3 417.2,207.0 417.3,207.8 417.4,208.5 417.5,209.3 417.6,210.0 417.7,210.7 417.8,211.5 418.0,212.2 418.1,213.0 418.3,213.7 418.4,214.4 418.7,215.1 418.9,215.8 419.2,216.5 419.6,217.2 419.8,217.6 420.5,217.3 421.2,217.0 421.8,216.6 422.4,216.2 422.9,215.7 423.4,215.1 423.8,214.5 424.2,213.9 424.6,213.2 424.9,212.5 425.2,211.9 425.5,211.2 425.7,210.5 426.0,209.7 426.2,209.0 426.4,208.3 426.6,207.6 426.7,206.8 426.9,206.1 427.1,205.4 427.3,204.7 427.5,203.9 427.7,203.2 427.9,202.5 428.1,201.8 428.3,201.1 428.5,200.3 428.7,199.6 429.0,198.9 429.2,198.2 429.4,197.5 429.6,196.8 429.9,196.0 430.1,195.3 430.3,194.6 430.5,193.9 430.7,193.2 430.9,192.4 431.1,191.7 431.2,191.0 431.4,190.2 431.5,189.5 431.7,188.8 431.8,188.0 432.0,187.3 432.1,186.6 432.3,185.8 432.4,185.1 432.5,184.4 432.7,183.6 432.8,182.9 433.0,182.1 433.1,181.4 433.3,180.7 433.4,179.9 433.6,179.2 433.7,178.5 433.9,177.7 434.0,177.0 434.2,176.3 434.3,175.5 434.4,174.8 434.6,174.0 434.7,173.3 434.9,172.6 435.0,171.8 435.2,171.1 435.3,170.4 435.5,169.6 435.6,168.9 435.7,168.2 435.9,167.4 436.0,166.7 436.2,166.0 436.4,165.2 436.5,164.5 436.7,163.8 436.9,163.0 437.1,162.3 437.3,161.6 437.5,160.9 437.7,160.1 437.9,159.4 438.2,158.7 438.4,158.0 438.7,157.3 439.0,156.6 439.3,155.9 439.6,155.2 439.9,154.6 440.3,153.9 440.7,153.3 441.2,152.7 441.7,152.2 442.3,151.8 442.9,151.5 443.6,151.4 444.3,151.3 445.0,151.5 445.7,151.8 446.3,152.2 446.8,152.7 447.3,153.2 447.7,153.9 448.0,154.5 448.3,155.2 448.6,155.9 448.8,156.6 449.1,157.3 449.3,158.0 449.6,158.7 449.9,159.4 450.3,160.1 450.6,160.7 450.9,161.4 451.2,162.1 451.5,162.8 451.7,163.5 451.9,164.2 452.2,164.9 452.4,165.7 452.6,166.4 452.8,167.1 453.0,167.8 453.1,168.6 453.3,169.3 453.5,170.0 453.7,170.8 453.9,171.5 454.0,172.2 454.2,172.9 454.4,173.7 454.5,174.4 454.7,175.1 454.9,175.9 455.0,176.6 455.2,177.3 455.4,178.1 455.5,178.8 455.7,179.5 455.9,180.3 456.0,181.0 456.2,181.7 456.4,182.4 456.6,183.2 456.8,183.9 456.9,184.6 457.1,185.4 457.3,186.1 457.5,186.8 457.7,187.5 457.9,188.3 458.0,189.0 458.2,189.7 458.4,190.4 458.6,191.2 458.8,191.9 458.9,192.6 459.1,193.4 459.3,194.1 459.5,194.8 459.7,195.5 459.8,196.3 460.0,197.0 460.2,197.7 460.4,198.4 460.7,199.2 460.9,199.9 461.1,200.6 461.4,201.3 461.6,202.0 461.9,202.7 462.2,203.4 462.4,204.1 462.7,204.8 463.0,205.5 463.4,206.2 463.7,206.8 464.0,207.5 464.3,208.2 464.7,208.8 465.1,209.5 465.4,210.2 465.8,210.8 466.2,211.4 466.6,212.1 467.0,212.7 467.4,213.3 467.9,213.9 468.3,214.5 468.8,215.1 469.3,215.7 469.8,216.2 470.3,216.7 470.9,217.2 471.5,217.7 472.0,218.2 472.7,218.6 473.3,219.1 473.9,219.4 474.6,219.8 475.2,220.2 475.9,220.5 476.6,220.8 477.3,221.1 477.9,221.4 478.6,221.7 479.4,221.9 480.1,222.2 480.8,222.4 481.5,222.6 482.2,222.8 482.9,223.0 483.7,223.2 484.4,223.4 485.1,223.6 485.8,223.8 486.6,223.9 487.3,224.1 488.1,224.2 488.8,224.3 489.5,224.4 490.3,224.6 491.0,224.7 491.8,224.8 492.5,224.9 493.2,225.0 494.0,225.1 494.7,225.2 495.5,225.3 496.2,225.3 497.0,225.4 497.7,225.5 498.5,225.6 499.2,225.6 500.0,225.7 500.7,225.8 501.5,225.8 502.2,225.9 503.0,225.9 503.7,226.0 504.4,226.1 505.2,226.1 505.9,226.2 506.7,226.2 507.4,226.3 508.2,226.3 508.9,226.3 509.7,226.4 510.4,226.4 511.2,226.4 511.9,226.5 512.7,226.5 513.4,226.5 514.2,226.5 514.9,226.5 515.7,226.5 516.4,226.5 517.2,226.5 517.9,226.5 518.7,226.5 519.4,226.5 520.2,226.5 520.9,226.5 521.7,226.5 522.4,226.5 523.2,226.5 523.9,226.5 524.7,226.5 525.4,226.4 526.2,226.4 526.9,226.4 527.7,226.4 528.4,226.4 529.2,226.4 529.9,226.4 530.7,226.4 531.4,226.4 532.2,226.3 532.9,226.3 533.7,226.2 534.4,226.2 535.2,226.1 535.9,226.0 536.7,226.0 537.4,225.9 538.2,225.8 538.9,225.7 539.7,225.6 540.4,225.5 541.2,225.4 541.9,225.3 542.6,225.2 543.4,225.0 544.1,224.9 544.8,224.7 545.6,224.5 546.3,224.3 547.0,224.1 547.7,223.8 548.4,223.6 549.1,223.3 549.8,223.0 550.5,222.7 551.2,222.4 551.8,222.1 552.5,221.8 553.2,221.4 553.9,221.1 554.5,220.7 555.2,220.4 555.8,220.0 556.5,219.6 557.1,219.2 557.8,218.8 558.4,218.4 559.0,218.0 559.6,217.6 560.2,217.1 560.7,216.6 561.3,216.1 561.8,215.5 562.3,215.0 562.8,214.4 563.2,213.8 563.7,213.2 564.1,212.6 564.6,212.0 565.0,211.4 565.4,210.7 565.8,210.1 566.2,209.5 566.6,208.8 566.9,208.1 567.2,207.5 567.6,206.8 567.9,206.1 568.2,205.4 568.5,204.7 568.7,204.0 569.0,203.3 569.2,202.6 569.5,201.9 569.7,201.2 570.0,200.5 570.2,199.8 570.4,199.1 570.6,198.3 570.8,197.6 571.0,196.9 571.3,196.2 571.4,195.5 571.6,194.7 571.8,194.0 572.0,193.3 572.2,192.6 572.4,191.8 572.6,191.1 572.8,190.4 573.0,189.7 573.2,188.9 573.4,188.2 573.6,187.5 573.8,186.8 574.0,186.0 574.2,185.3 574.4,184.6 574.6,183.9 574.8,183.2 575.1,182.4 575.3,181.7 575.5,181.0 575.7,180.3 575.9,179.6 576.1,178.8 576.3,178.1 576.5,177.4 576.7,176.7 576.9,176.0 577.1,175.2 577.3,174.5 577.5,173.8 577.8,173.1 578.0,172.3 578.2,171.6 578.4,170.9 578.6,170.2 578.8,169.5 579.0,168.7 579.2,168.0 579.4,167.3 579.6,166.6 579.8,165.9 580.0,165.1 580.2,164.4 580.4,163.7 580.6,163.0 580.9,162.3 581.1,161.5 581.3,160.8 581.5,160.1 581.7,159.4 581.9,158.6 582.1,157.9 582.3,157.2 582.5,156.5 582.7,155.8 582.9,155.0 583.1,154.3 583.3,153.6 583.5,152.9 583.7,152.1 583.9,151.4 584.1,150.7 584.3,150.0 584.5,149.2 584.7,148.5 584.9,147.8 585.1,147.1 585.3,146.4 585.5,145.6 585.7,144.9 585.9,144.2 586.1,143.5 586.3,142.7 586.5,142.0 586.7,141.3 586.9,140.6 587.1,139.9 587.3,139.1 587.6,138.4 587.8,137.7 588.0,137.0 588.2,136.3 588.4,135.5 588.7,134.8 588.9,134.1 589.2,133.4 589.4,132.7 589.7,132.0 590.0,131.4 590.4,130.7 590.8,130.0 591.2,129.4 591.6,128.8 592.1,128.2 592.6,127.7 593.1,127.1 593.6,126.5 594.1,126.0 594.6,125.5 595.1,124.9 595.7,124.5 596.3,124.0 596.9,123.6 597.6,123.3 598.3,123.0 599.0,122.8 599.7,122.7 600.5,122.7 601.2,122.8 601.9,123.0 602.6,123.3 603.2,123.6 603.9,124.0 604.5,124.5 605.1,124.9 605.6,125.4 606.2,125.9 606.8,126.4 607.3,127.0 607.8,127.5 608.3,128.1 608.8,128.6 609.2,129.2 609.6,129.8 610.1,130.5 610.4,131.1 610.8,131.8 611.2,132.4 611.5,133.1 611.9,133.8 612.2,134.4 612.6,135.1 613.0,135.7 613.4,136.4 613.8,137.0 614.2,137.6 614.6,138.3 614.9,138.9 615.3,139.6 615.6,140.2 616.0,140.9 616.3,141.6 616.6,142.3 616.9,143.0 617.1,143.7 617.4,144.4 617.7,145.1 617.9,145.8 618.2,146.5 618.4,147.2 618.7,147.9 618.9,148.6 619.2,149.3 619.4,150.0 619.6,150.7 619.9,151.5 620.1,152.2 620.4,152.9 620.6,153.6 620.9,154.3 621.1,155.0 621.4,155.7 621.6,156.4 621.9,157.1 622.1,157.8 622.4,158.5 622.6,159.2 622.8,160.0 623.1,160.7 623.3,161.4 623.6,162.1 623.8,162.8 624.1,163.5 624.3,164.2 624.6,164.9 624.8,165.6 625.1,166.3 625.3,167.0 625.6,167.7 625.8,168.5 626.1,169.2 626.3,169.9 626.6,170.6 626.8,171.3 627.1,172.0 627.4,172.7 627.6,173.4 627.9,174.1 628.1,174.8 628.4,175.5 628.7,176.2 628.9,176.9 629.2,177.6 629.5,178.3 629.7,179.0 630.0,179.7 630.3,180.4 630.5,181.1 630.8,181.8 631.1,182.5 631.3,183.2 631.6,183.9 631.9,184.6 632.2,185.3 632.5,186.0 632.7,186.7 633.0,187.4 633.3,188.1 633.6,188.8 633.9,189.4 634.2,190.1 634.5,190.8 634.9,191.5 635.2,192.2 635.5,192.9 635.8,193.5 636.2,194.2 636.5,194.9 636.8,195.5 637.2,196.2 637.5,196.9 637.9,197.5 638.3,198.2 638.6,198.8 639.0,199.5 639.4,200.1 639.7,200.8 640.1,201.4 640.5,202.1 640.9,202.7 641.3,203.3 641.8,203.9 642.2,204.6 642.7,205.2 643.1,205.7 643.6,206.3 644.1,206.9 644.6,207.5 645.1,208.0 645.6,208.6 646.1,209.1 646.6,209.7 647.1,210.2 647.7,210.7 648.2,211.3 648.8,211.8 649.3,212.3 649.9,212.8 650.4,213.2 651.0,213.7 651.6,214.2 652.2,214.7 652.8,215.1 653.4,215.5 654.0,216.0 654.6,216.4 655.3,216.8 655.9,217.2 656.5,217.6 657.2,218.0 657.8,218.4 658.5,218.7 659.1,219.1 659.8,219.4 660.5,219.8 661.2,220.1 661.8,220.4 662.5,220.7 663.2,221.0 663.9,221.2 664.6,221.5 665.3,221.7 666.1,222.0 666.8,222.2 667.5,222.4 668.2,222.6 668.9,222.8 669.7,223.0 670.4,223.2 671.1,223.4 671.8,223.6 672.6,223.8 673.3,223.9 674.0,224.1 674.8,224.2 675.5,224.4" fill="none" stroke="#c0302a" stroke-width="2.1" stroke-linejoin="round"/>
<path d="M403.2,122.3 403.2,122.4 403.5,123.1 403.7,123.8 404.0,124.5 404.3,125.2 404.5,125.9 404.8,126.6 405.1,127.3 405.3,128.0 405.6,128.7 405.9,129.4 406.1,130.1 406.4,130.9 406.6,131.6 406.9,132.3 407.2,133.0 407.4,133.7 407.7,134.4 407.9,135.1 408.2,135.8 408.4,136.5 408.7,137.2 408.9,137.9 409.2,138.6 409.5,139.3 409.7,140.0 409.9,140.8 410.1,141.5 410.3,142.2 410.4,143.0 410.6,143.7 410.8,144.4 410.9,145.2 411.1,145.9 411.2,146.6 411.4,147.4 411.5,148.1 411.7,148.8 411.8,149.6 412.0,150.3 412.1,151.0 412.3,151.8 412.5,152.5 412.6,153.2 412.8,154.0 413.0,154.7 413.1,155.4 413.3,156.2 413.5,156.9 413.6,157.6 413.8,158.4 414.0,159.1 414.1,159.8 414.2,160.6 414.4,161.3 414.5,162.1 414.6,162.8 414.8,163.5 414.9,164.3 415.0,165.0 415.1,165.8 415.2,166.5 415.3,167.3 415.4,168.0 415.5,168.8 415.6,169.5 415.6,170.2 415.7,171.0 415.8,171.7 415.9,172.5 416.0,173.2 416.0,174.0 416.1,174.7 416.2,175.5 416.2,176.2 416.3,177.0 416.4,177.7 416.5,178.5 416.5,179.2 416.6,180.0 416.7,180.7 416.7,181.5 416.8,182.2 416.9,183.0 416.9,183.7 417.0,184.5 417.0,185.2 417.1,186.0 417.2,186.7 417.2,187.5 417.3,188.2 417.3,189.0 417.4,189.7 417.5,190.5 417.5,191.2 417.6,192.0 417.7,192.7 417.7,193.4 417.8,194.2 417.9,194.9 417.9,195.7 418.0,196.4 418.1,197.2 418.1,197.9 418.2,198.7 418.3,199.4 418.4,200.2 418.5,200.9 418.7,201.7 418.8,202.4 419.0,203.1 419.3,203.8 419.6,204.5 420.0,205.1 420.4,205.6 420.6,205.8 421.2,205.3 421.6,204.8 422.0,204.2 422.4,203.6 422.6,202.9 422.8,202.2 423.1,201.5 423.3,200.7 423.5,200.0 423.7,199.3 423.9,198.6 424.1,197.8 424.3,197.1 424.5,196.4 424.6,195.7 424.8,194.9 425.0,194.2 425.2,193.5 425.3,192.7 425.5,192.0 425.7,191.3 425.8,190.6 426.0,189.8 426.1,189.1 426.3,188.3 426.4,187.6 426.5,186.9 426.7,186.1 426.8,185.4 427.0,184.7 427.1,183.9 427.3,183.2 427.4,182.5 427.6,181.7 427.7,181.0 427.9,180.3 428.0,179.5 428.2,178.8 428.3,178.1 428.5,177.3 428.7,176.6 428.8,175.9 429.0,175.1 429.2,174.4 429.3,173.7 429.5,172.9 429.7,172.2 429.8,171.5 430.0,170.7 430.2,170.0 430.3,169.3 430.5,168.5 430.7,167.8 430.8,167.1 431.0,166.3 431.2,165.6 431.3,164.9 431.5,164.2 431.7,163.4 431.9,162.7 432.0,162.0 432.2,161.2 432.4,160.5 432.6,159.8 432.7,159.1 432.9,158.3 433.1,157.6 433.3,156.9 433.5,156.1 433.6,155.4 433.8,154.7 434.0,154.0 434.2,153.2 434.4,152.5 434.6,151.8 434.8,151.1 434.9,150.3 435.1,149.6 435.3,148.9 435.5,148.1 435.7,147.4 435.9,146.7 436.1,146.0 436.2,145.2 436.4,144.5 436.6,143.8 436.8,143.0 436.9,142.3 437.1,141.6 437.3,140.9 437.4,140.1 437.6,139.4 437.8,138.7 438.0,138.0 438.3,137.2 438.5,136.5 438.8,135.8 439.1,135.1 439.4,134.5 439.7,133.8 440.1,133.2 440.5,132.5 441.0,132.0 441.5,131.5 442.1,131.1 442.8,130.7 443.5,130.6 444.2,130.5 444.9,130.5 445.6,130.7 446.2,131.1 446.8,131.5 447.3,132.0 447.7,132.6 448.1,133.2 448.5,133.9 448.9,134.5 449.2,135.2 449.6,135.9 449.9,136.5 450.3,137.2 450.6,137.9 450.9,138.5 451.3,139.2 451.6,139.9 451.9,140.6 452.1,141.3 452.4,142.0 452.6,142.7 452.8,143.4 453.0,144.2 453.2,144.9 453.3,145.6 453.5,146.3 453.7,147.1 453.9,147.8 454.1,148.5 454.2,149.3 454.4,150.0 454.6,150.7 454.8,151.4 454.9,152.2 455.1,152.9 455.3,153.6 455.5,154.3 455.7,155.1 455.8,155.8 456.0,156.5 456.2,157.3 456.4,158.0 456.5,158.7 456.7,159.5 456.9,160.2 457.1,160.9 457.2,161.6 457.4,162.4 457.6,163.1 457.7,163.8 457.9,164.6 458.1,165.3 458.2,166.0 458.4,166.8 458.6,167.5 458.8,168.2 458.9,169.0 459.1,169.7 459.3,170.4 459.5,171.1 459.7,171.8 460.0,172.6 460.2,173.3 460.4,174.0 460.6,174.7 460.8,175.4 461.0,176.2 461.2,176.9 461.4,177.6 461.6,178.3 461.8,179.0 462.0,179.8 462.2,180.5 462.4,181.2 462.6,181.9 462.8,182.7 463.0,183.4 463.2,184.1 463.5,184.8 463.7,185.5 463.9,186.3 464.1,187.0 464.3,187.7 464.5,188.4 464.7,189.1 464.9,189.9 465.1,190.6 465.3,191.3 465.6,192.0 465.8,192.7 466.0,193.5 466.2,194.2 466.4,194.9 466.7,195.6 466.9,196.3 467.1,197.0 467.4,197.7 467.6,198.4 467.9,199.2 468.2,199.9 468.4,200.5 468.7,201.2 469.0,201.9 469.3,202.6 469.6,203.3 470.0,204.0 470.3,204.6 470.6,205.3 471.0,206.0 471.3,206.6 471.7,207.3 472.1,207.9 472.5,208.6 472.9,209.2 473.3,209.8 473.7,210.4 474.2,211.1 474.6,211.7 475.1,212.3 475.5,212.8 476.0,213.4 476.5,214.0 477.0,214.5 477.5,215.1 478.1,215.6 478.6,216.1 479.2,216.6 479.8,217.1 480.4,217.5 481.0,217.9 481.6,218.3 482.3,218.7 482.9,219.1 483.6,219.4 484.2,219.8 484.9,220.2 485.5,220.5 486.2,220.9 486.9,221.3 487.5,221.6 488.2,221.9 488.9,222.2 489.6,222.5 490.3,222.7 491.0,223.0 491.7,223.2 492.4,223.4 493.2,223.6 493.9,223.8 494.6,223.9 495.4,224.1 496.1,224.2 496.8,224.3 497.6,224.3 498.3,224.4 499.1,224.4 499.8,224.5 500.6,224.5 501.3,224.6 502.1,224.6 502.8,224.6 503.6,224.7 504.3,224.7 505.1,224.7 505.8,224.8 506.6,224.8 507.3,224.8 508.1,224.8 508.8,224.8 509.6,224.9 510.3,224.9 511.1,224.9 511.8,224.9 512.6,224.9 513.3,224.9 514.1,224.9 514.8,224.9 515.6,224.9 516.3,224.9 517.1,224.9 517.8,224.9 518.6,224.8 519.3,224.8 520.1,224.8 520.8,224.8 521.6,224.7 522.3,224.7 523.1,224.7 523.8,224.6 524.6,224.6 525.3,224.6 526.1,224.5 526.8,224.5 527.6,224.4 528.3,224.4 529.1,224.4 529.8,224.3 530.6,224.2 531.3,224.2 532.1,224.1 532.8,224.0 533.5,223.9 534.3,223.8 535.0,223.7 535.8,223.5 536.5,223.4 537.2,223.2 538.0,223.0 538.7,222.9 539.4,222.7 540.1,222.4 540.8,222.2 541.5,221.9 542.2,221.6 542.9,221.3 543.6,220.9 544.2,220.6 544.9,220.3 545.6,219.9 546.2,219.6 546.9,219.3 547.6,218.9 548.2,218.5 548.9,218.2 549.5,217.8 550.1,217.4 550.8,216.9 551.4,216.5 552.0,216.1 552.6,215.6 553.1,215.1 553.7,214.6 554.2,214.0 554.7,213.5 555.1,212.9 555.5,212.3 556.0,211.6 556.4,211.0 556.7,210.4 557.1,209.7 557.5,209.1 557.8,208.4 558.2,207.7 558.5,207.1 558.8,206.4 559.2,205.7 559.5,205.0 559.8,204.3 560.1,203.6 560.4,203.0 560.7,202.3 561.0,201.6 561.2,200.9 561.5,200.2 561.8,199.5 562.0,198.8 562.3,198.1 562.5,197.4 562.8,196.6 563.0,195.9 563.2,195.2 563.4,194.5 563.6,193.8 563.8,193.0 564.0,192.3 564.2,191.6 564.4,190.9 564.6,190.1 564.8,189.4 565.0,188.7 565.3,188.0 565.5,187.3 565.7,186.6 566.0,185.9 566.2,185.2 566.4,184.4 566.7,183.7 566.9,183.0 567.2,182.3 567.4,181.6 567.6,180.9 567.8,180.2 568.1,179.4 568.3,178.7 568.5,178.0 568.7,177.3 569.0,176.6 569.2,175.9 569.4,175.2 569.6,174.4 569.8,173.7 570.1,173.0 570.3,172.3 570.5,171.6 570.7,170.8 570.9,170.1 571.1,169.4 571.3,168.7 571.6,168.0 571.8,167.2 572.0,166.5 572.2,165.8 572.4,165.1 572.6,164.4 572.9,163.7 573.1,162.9 573.3,162.2 573.5,161.5 573.7,160.8 573.9,160.1 574.2,159.3 574.4,158.6 574.6,157.9 574.8,157.2 575.0,156.5 575.3,155.8 575.5,155.0 575.7,154.3 576.0,153.6 576.2,152.9 576.4,152.2 576.7,151.5 576.9,150.8 577.2,150.1 577.4,149.4 577.7,148.7 577.9,148.0 578.2,147.2 578.4,146.5 578.7,145.8 579.0,145.1 579.2,144.4 579.5,143.7 579.7,143.0 580.0,142.3 580.2,141.6 580.5,140.9 580.7,140.2 581.0,139.5 581.2,138.8 581.5,138.1 581.7,137.4 581.9,136.6 582.2,135.9 582.4,135.2 582.7,134.5 582.9,133.8 583.2,133.1 583.4,132.4 583.7,131.7 583.9,131.0 584.2,130.3 584.5,129.6 584.8,128.9 585.1,128.2 585.4,127.5 585.7,126.8 586.0,126.2 586.4,125.5 586.7,124.8 587.1,124.2 587.4,123.5 587.8,122.9 588.2,122.2 588.6,121.6 589.0,120.9 589.4,120.3 589.8,119.7 590.2,119.0 590.6,118.4 591.0,117.8 591.5,117.2 592.0,116.6 592.5,116.1 593.0,115.6 593.6,115.1 594.1,114.6 594.7,114.1 595.3,113.7 596.0,113.3 596.7,113.0 597.3,112.7 598.0,112.5 598.8,112.3 599.5,112.2 600.2,112.2 601.0,112.3 601.7,112.4 602.4,112.6 603.1,112.9 603.8,113.2 604.4,113.6 605.0,114.1 605.6,114.5 606.1,115.0 606.7,115.5 607.2,116.1 607.7,116.6 608.3,117.1 608.8,117.7 609.3,118.2 609.8,118.8 610.2,119.4 610.7,120.0 611.2,120.6 611.6,121.2 612.1,121.8 612.5,122.4 613.0,123.0 613.4,123.6 613.8,124.2 614.2,124.8 614.7,125.4 615.1,126.1 615.5,126.7 615.9,127.3 616.3,128.0 616.7,128.6 617.0,129.3 617.4,129.9 617.8,130.6 618.1,131.3 618.4,131.9 618.7,132.6 619.0,133.3 619.3,134.0 619.6,134.7 619.9,135.4 620.2,136.1 620.4,136.8 620.7,137.5 621.0,138.2 621.3,138.8 621.6,139.5 621.9,140.2 622.2,140.9 622.5,141.6 622.8,142.3 623.1,143.0 623.5,143.6 623.8,144.3 624.1,145.0 624.4,145.7 624.8,146.3 625.1,147.0 625.4,147.7 625.7,148.4 626.0,149.1 626.3,149.7 626.7,150.4 627.0,151.1 627.3,151.8 627.6,152.5 627.9,153.2 628.2,153.8 628.5,154.5 628.8,155.2 629.1,155.9 629.4,156.6 629.8,157.3 630.1,157.9 630.4,158.6 630.7,159.3 631.0,160.0 631.3,160.7 631.6,161.4 631.9,162.0 632.2,162.7 632.5,163.4 632.8,164.1 633.2,164.8 633.5,165.5 633.8,166.1 634.1,166.8 634.4,167.5 634.7,168.2 635.0,168.9 635.3,169.6 635.6,170.3 635.9,170.9 636.2,171.6 636.5,172.3 636.8,173.0 637.1,173.7 637.4,174.4 637.7,175.1 638.0,175.8 638.3,176.5 638.6,177.1 638.9,177.8 639.2,178.5 639.5,179.2 639.8,179.9 640.2,180.5 640.5,181.2 640.9,181.9 641.2,182.5 641.6,183.2 642.0,183.8 642.4,184.5 642.8,185.1 643.1,185.7 643.5,186.4 643.9,187.0 644.3,187.7 644.7,188.3 645.1,189.0 645.5,189.6 645.9,190.2 646.3,190.9 646.7,191.5 647.1,192.1 647.5,192.8 647.9,193.4 648.3,194.0 648.7,194.7 649.1,195.3 649.5,195.9 649.9,196.5 650.3,197.2 650.7,197.8 651.2,198.4 651.6,199.1 652.0,199.7 652.4,200.3 652.9,200.9 653.3,201.5 653.8,202.1 654.2,202.7 654.7,203.3 655.2,203.8 655.7,204.4 656.2,205.0 656.7,205.5 657.2,206.1 657.7,206.6 658.2,207.2 658.7,207.7 659.3,208.2 659.8,208.8 660.3,209.3 660.9,209.8 661.4,210.3 662.0,210.8 662.6,211.3 663.2,211.7 663.8,212.2 664.4,212.6 665.0,213.1 665.6,213.5 666.2,213.9 666.9,214.3 667.5,214.7 668.1,215.1 668.8,215.5 669.4,215.8 670.1,216.2 670.8,216.6 671.4,216.9 672.1,217.2 672.8,217.6 673.4,217.9 674.1,218.2 674.8,218.5 675.5,218.8" fill="none" stroke="#5fc0c2" stroke-width="2.1" stroke-linejoin="round"/>
<text x="44.50" y="244.5" text-anchor="middle">0.9</text>
<text x="112.58" y="244.5" text-anchor="middle">1</text>
<text x="180.65" y="244.5" text-anchor="middle">1.1</text>
<text x="248.73" y="244.5" text-anchor="middle">1.2</text>
<text x="316.80" y="244.5" text-anchor="middle">1.3</text>
<text x="40.30" y="232.50" text-anchor="end">0</text>
<text x="40.30" y="188.10" text-anchor="end">0.2</text>
<text x="40.30" y="143.70" text-anchor="end">0.4</text>
<text x="40.30" y="99.30" text-anchor="end">0.6</text>
<text x="40.30" y="54.90" text-anchor="end">0.8</text>
<text x="40.30" y="10.50" text-anchor="end">1</text>
<text x="403.00" y="244.5" text-anchor="middle">0.9</text>
<text x="471.12" y="244.5" text-anchor="middle">1</text>
<text x="539.25" y="244.5" text-anchor="middle">1.1</text>
<text x="607.38" y="244.5" text-anchor="middle">1.2</text>
<text x="675.50" y="244.5" text-anchor="middle">1.3</text>
<text x="398.80" y="232.50" text-anchor="end">0</text>
<text x="398.80" y="188.10" text-anchor="end">0.2</text>
<text x="398.80" y="143.70" text-anchor="end">0.4</text>
<text x="398.80" y="99.30" text-anchor="end">0.6</text>
<text x="398.80" y="54.90" text-anchor="end">0.8</text>
<text x="398.80" y="10.50" text-anchor="end">1</text>
<text x="3.4" y="11">(a)</text>
<text x="362" y="11">(b)</text>
<text x="180.3" y="261.2" font-size="14.4" text-anchor="middle">Wavelength (μm)</text>
<text x="538.8" y="261.2" font-size="14.4" text-anchor="middle">Wavelength (μm)</text>
<text transform="translate(10.1,116) rotate(-90)" text-anchor="middle">Reflection</text>
<text transform="translate(368.8,117.2) rotate(-90)" text-anchor="middle">Absorption</text>
<line x1="418" y1="25.5" x2="460.5" y2="25.5" stroke="#3c3e8e" stroke-width="2.1"/>
<text x="465.3" y="32.70" font-size="14.4">1 W/cm<tspan font-size="10.6" dy="-6.6">2</tspan></text>
<line x1="418" y1="47.8" x2="460.5" y2="47.8" stroke="#1a7a3e" stroke-width="2.1"/>
<text x="465.3" y="55.00" font-size="14.4">1 MW/cm<tspan font-size="10.6" dy="-6.6">2</tspan></text>
<line x1="418" y1="70.0" x2="460.5" y2="70.0" stroke="#c0302a" stroke-width="2.1"/>
<text x="465.3" y="77.20" font-size="14.4">3 MW/cm<tspan font-size="10.6" dy="-6.6">2</tspan></text>
<line x1="418" y1="92.1" x2="460.5" y2="92.1" stroke="#5fc0c2" stroke-width="2.1"/>
<text x="465.3" y="99.30" font-size="14.4">5 MW/cm<tspan font-size="10.6" dy="-6.6">2</tspan></text>
</g></svg>
</body></html>
